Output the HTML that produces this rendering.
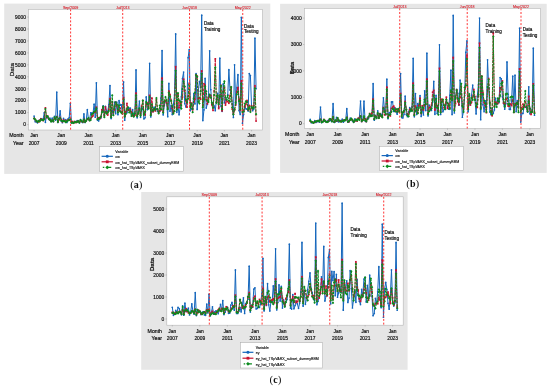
<!DOCTYPE html>
<html><head><meta charset="utf-8"><title>Figure</title>
<style>html,body{margin:0;padding:0;background:#fff}svg{display:block;font-family:"Liberation Sans", sans-serif}text{fill:#111;stroke:#111;stroke-width:.18px}.r{fill:#d4202c;stroke:#d4202c;stroke-width:.1px}.cap{stroke:none}.lg{stroke-width:.12px}</style>
</head><body>
<svg width="550" height="388" viewBox="0 0 550 388">
<rect width="550" height="388" fill="#fff"/>
<rect x="4.2" y="3.6" width="266.1" height="170.3" fill="#e6e6e6"/>
<rect x="28.5" y="9.3" width="234.10000000000002" height="120.7" fill="#fff" stroke="#b4b4b4" stroke-width="0.6"/>
<line x1="27.2" y1="124.60" x2="28.5" y2="124.60" stroke="#8a8a8a" stroke-width="0.4"/>
<text x="25.90" y="126.36" font-size="4.9" text-anchor="end" class="b">0</text>
<line x1="27.2" y1="112.65" x2="28.5" y2="112.65" stroke="#8a8a8a" stroke-width="0.4"/>
<text x="25.90" y="114.41" font-size="4.9" text-anchor="end" class="b">1000</text>
<line x1="27.2" y1="100.70" x2="28.5" y2="100.70" stroke="#8a8a8a" stroke-width="0.4"/>
<text x="25.90" y="102.46" font-size="4.9" text-anchor="end" class="b">2000</text>
<line x1="27.2" y1="88.75" x2="28.5" y2="88.75" stroke="#8a8a8a" stroke-width="0.4"/>
<text x="25.90" y="90.51" font-size="4.9" text-anchor="end" class="b">3000</text>
<line x1="27.2" y1="76.80" x2="28.5" y2="76.80" stroke="#8a8a8a" stroke-width="0.4"/>
<text x="25.90" y="78.56" font-size="4.9" text-anchor="end" class="b">4000</text>
<line x1="27.2" y1="64.85" x2="28.5" y2="64.85" stroke="#8a8a8a" stroke-width="0.4"/>
<text x="25.90" y="66.61" font-size="4.9" text-anchor="end" class="b">5000</text>
<line x1="27.2" y1="52.90" x2="28.5" y2="52.90" stroke="#8a8a8a" stroke-width="0.4"/>
<text x="25.90" y="54.66" font-size="4.9" text-anchor="end" class="b">6000</text>
<line x1="27.2" y1="40.95" x2="28.5" y2="40.95" stroke="#8a8a8a" stroke-width="0.4"/>
<text x="25.90" y="42.71" font-size="4.9" text-anchor="end" class="b">7000</text>
<line x1="27.2" y1="29.00" x2="28.5" y2="29.00" stroke="#8a8a8a" stroke-width="0.4"/>
<text x="25.90" y="30.76" font-size="4.9" text-anchor="end" class="b">8000</text>
<line x1="27.2" y1="17.05" x2="28.5" y2="17.05" stroke="#8a8a8a" stroke-width="0.4"/>
<text x="25.90" y="18.81" font-size="4.9" text-anchor="end" class="b">9000</text>
<text transform="translate(13.8,69.6) rotate(-90)" font-size="6.2" text-anchor="middle" fill="#111" font-weight="normal">Data</text>
<line x1="34.10" y1="130.0" x2="34.10" y2="131.3" stroke="#8a8a8a" stroke-width="0.4"/>
<text x="34.10" y="137.36" font-size="4.9" text-anchor="middle" fill="#111">Jan</text>
<text x="34.10" y="144.56" font-size="4.9" text-anchor="middle" fill="#111">2007</text>
<line x1="61.28" y1="130.0" x2="61.28" y2="131.3" stroke="#8a8a8a" stroke-width="0.4"/>
<text x="61.28" y="137.36" font-size="4.9" text-anchor="middle" fill="#111">Jan</text>
<text x="61.28" y="144.56" font-size="4.9" text-anchor="middle" fill="#111">2009</text>
<line x1="88.46" y1="130.0" x2="88.46" y2="131.3" stroke="#8a8a8a" stroke-width="0.4"/>
<text x="88.46" y="137.36" font-size="4.9" text-anchor="middle" fill="#111">Jan</text>
<text x="88.46" y="144.56" font-size="4.9" text-anchor="middle" fill="#111">2011</text>
<line x1="115.64" y1="130.0" x2="115.64" y2="131.3" stroke="#8a8a8a" stroke-width="0.4"/>
<text x="115.64" y="137.36" font-size="4.9" text-anchor="middle" fill="#111">Jan</text>
<text x="115.64" y="144.56" font-size="4.9" text-anchor="middle" fill="#111">2013</text>
<line x1="142.82" y1="130.0" x2="142.82" y2="131.3" stroke="#8a8a8a" stroke-width="0.4"/>
<text x="142.82" y="137.36" font-size="4.9" text-anchor="middle" fill="#111">Jan</text>
<text x="142.82" y="144.56" font-size="4.9" text-anchor="middle" fill="#111">2015</text>
<line x1="170.00" y1="130.0" x2="170.00" y2="131.3" stroke="#8a8a8a" stroke-width="0.4"/>
<text x="170.00" y="137.36" font-size="4.9" text-anchor="middle" fill="#111">Jan</text>
<text x="170.00" y="144.56" font-size="4.9" text-anchor="middle" fill="#111">2017</text>
<line x1="197.18" y1="130.0" x2="197.18" y2="131.3" stroke="#8a8a8a" stroke-width="0.4"/>
<text x="197.18" y="137.36" font-size="4.9" text-anchor="middle" fill="#111">Jan</text>
<text x="197.18" y="144.56" font-size="4.9" text-anchor="middle" fill="#111">2019</text>
<line x1="224.36" y1="130.0" x2="224.36" y2="131.3" stroke="#8a8a8a" stroke-width="0.4"/>
<text x="224.36" y="137.36" font-size="4.9" text-anchor="middle" fill="#111">Jan</text>
<text x="224.36" y="144.56" font-size="4.9" text-anchor="middle" fill="#111">2021</text>
<line x1="251.54" y1="130.0" x2="251.54" y2="131.3" stroke="#8a8a8a" stroke-width="0.4"/>
<text x="251.54" y="137.36" font-size="4.9" text-anchor="middle" fill="#111">Jan</text>
<text x="251.54" y="144.56" font-size="4.9" text-anchor="middle" fill="#111">2023</text>
<text x="23.6" y="137.36" font-size="5.2" text-anchor="end" fill="#111">Month</text>
<text x="23.6" y="144.56" font-size="5.2" text-anchor="end" fill="#111">Year</text>
<clipPath id="cpa"><rect x="28.5" y="9.3" width="234.10000000000002" height="120.7"/></clipPath>
<g clip-path="url(#cpa)" fill="none" stroke-linejoin="round">
<polyline points="34.10,116.06 35.23,121.63 36.37,121.81 37.50,122.79 38.63,120.60 39.76,120.38 40.90,118.63 42.03,120.02 43.16,118.94 44.29,112.65 45.42,122.29 46.56,115.51 47.69,117.50 48.82,119.45 49.96,118.17 51.09,121.22 52.22,118.09 53.35,121.73 54.48,116.35 55.62,120.22 56.75,92.10 57.88,122.46 59.01,118.89 60.15,110.86 61.28,121.20 62.41,122.70 63.55,118.28 64.68,121.34 65.81,119.68 66.94,122.47 68.08,118.77 69.21,117.63 70.34,103.33 71.47,122.96 72.60,122.00 73.74,122.66 74.87,121.54 76.00,122.04 77.14,120.50 78.27,121.42 79.40,122.79 80.53,119.53 81.66,121.86 82.80,122.61 83.93,113.84 85.06,122.46 86.19,120.86 87.33,109.66 88.46,119.43 89.59,119.97 90.73,112.73 91.86,113.21 92.99,113.21 94.12,104.14 95.25,117.24 96.39,82.78 97.52,120.26 98.65,121.01 99.78,118.01 100.92,118.04 102.05,109.95 103.18,105.75 104.32,114.67 105.45,106.40 106.58,111.03 107.71,111.59 108.84,104.69 109.98,85.52 111.11,118.60 112.24,110.44 113.37,114.82 114.51,102.00 115.64,113.76 116.77,102.08 117.91,114.72 119.04,100.62 120.17,105.15 121.30,104.74 122.44,113.96 123.57,81.94 124.70,120.27 125.83,111.13 126.96,112.82 128.10,108.71 129.23,108.27 130.36,108.20 131.50,116.04 132.63,109.66 133.76,115.99 134.89,113.94 136.03,69.87 137.16,117.83 138.29,112.03 139.42,100.99 140.55,117.36 141.69,107.68 142.82,108.72 143.95,118.95 145.09,117.76 146.22,96.92 147.35,109.63 148.48,107.35 149.62,63.30 150.75,116.98 151.88,109.17 153.01,111.57 154.14,107.18 155.28,109.78 156.41,108.54 157.54,111.43 158.68,111.18 159.81,111.50 160.94,98.13 162.07,50.51 163.20,114.92 164.34,105.19 165.47,100.81 166.60,102.34 167.73,116.76 168.87,83.44 170.00,111.25 171.13,105.72 172.27,114.62 173.40,104.49 174.53,94.90 175.66,33.90 176.79,112.37 177.93,104.83 179.06,114.87 180.19,107.45 181.32,96.79 182.46,78.60 183.59,72.09 184.72,103.59 185.86,106.92 186.99,100.98 188.12,57.68 189.25,49.55 190.38,110.75 191.52,108.71 192.65,108.32 193.78,93.59 194.91,103.95 196.05,73.70 197.18,109.47 198.31,90.80 199.45,81.44 200.58,87.40 201.71,15.14 202.84,120.54 203.97,109.80 205.11,78.36 206.24,108.07 207.37,104.02 208.50,97.03 209.64,50.87 210.77,89.60 211.90,104.80 213.04,102.87 214.17,106.04 215.30,110.63 216.43,99.29 217.56,93.29 218.70,107.46 219.83,58.13 220.96,105.99 222.09,111.31 223.23,83.97 224.36,102.97 225.49,99.55 226.63,99.55 227.76,94.70 228.89,69.63 230.02,89.92 231.16,93.26 232.29,104.17 233.42,117.51 234.55,64.85 235.68,104.05 236.82,87.82 237.95,74.65 239.08,110.58 240.22,114.40 241.35,17.35 242.48,123.17 243.61,114.50 244.75,105.95 245.88,108.80 247.01,109.13 248.14,111.09 249.27,73.57 250.41,75.61 251.54,105.93 252.67,110.71 253.81,108.89 254.94,38.08 256.07,88.75" stroke="#1466bc" stroke-width="1.0"/>
<g fill="#1466bc" stroke="none"><circle cx="34.10" cy="116.06" r="0.85"/><circle cx="35.23" cy="121.63" r="0.85"/><circle cx="36.37" cy="121.81" r="0.85"/><circle cx="37.50" cy="122.79" r="0.85"/><circle cx="38.63" cy="120.60" r="0.85"/><circle cx="39.76" cy="120.38" r="0.85"/><circle cx="40.90" cy="118.63" r="0.85"/><circle cx="42.03" cy="120.02" r="0.85"/><circle cx="43.16" cy="118.94" r="0.85"/><circle cx="44.29" cy="112.65" r="0.85"/><circle cx="45.42" cy="122.29" r="0.85"/><circle cx="46.56" cy="115.51" r="0.85"/><circle cx="47.69" cy="117.50" r="0.85"/><circle cx="48.82" cy="119.45" r="0.85"/><circle cx="49.96" cy="118.17" r="0.85"/><circle cx="51.09" cy="121.22" r="0.85"/><circle cx="52.22" cy="118.09" r="0.85"/><circle cx="53.35" cy="121.73" r="0.85"/><circle cx="54.48" cy="116.35" r="0.85"/><circle cx="55.62" cy="120.22" r="0.85"/><circle cx="56.75" cy="92.10" r="0.85"/><circle cx="57.88" cy="122.46" r="0.85"/><circle cx="59.01" cy="118.89" r="0.85"/><circle cx="60.15" cy="110.86" r="0.85"/><circle cx="61.28" cy="121.20" r="0.85"/><circle cx="62.41" cy="122.70" r="0.85"/><circle cx="63.55" cy="118.28" r="0.85"/><circle cx="64.68" cy="121.34" r="0.85"/><circle cx="65.81" cy="119.68" r="0.85"/><circle cx="66.94" cy="122.47" r="0.85"/><circle cx="68.08" cy="118.77" r="0.85"/><circle cx="69.21" cy="117.63" r="0.85"/><circle cx="70.34" cy="103.33" r="0.85"/><circle cx="71.47" cy="122.96" r="0.85"/><circle cx="72.60" cy="122.00" r="0.85"/><circle cx="73.74" cy="122.66" r="0.85"/><circle cx="74.87" cy="121.54" r="0.85"/><circle cx="76.00" cy="122.04" r="0.85"/><circle cx="77.14" cy="120.50" r="0.85"/><circle cx="78.27" cy="121.42" r="0.85"/><circle cx="79.40" cy="122.79" r="0.85"/><circle cx="80.53" cy="119.53" r="0.85"/><circle cx="81.66" cy="121.86" r="0.85"/><circle cx="82.80" cy="122.61" r="0.85"/><circle cx="83.93" cy="113.84" r="0.85"/><circle cx="85.06" cy="122.46" r="0.85"/><circle cx="86.19" cy="120.86" r="0.85"/><circle cx="87.33" cy="109.66" r="0.85"/><circle cx="88.46" cy="119.43" r="0.85"/><circle cx="89.59" cy="119.97" r="0.85"/><circle cx="90.73" cy="112.73" r="0.85"/><circle cx="91.86" cy="113.21" r="0.85"/><circle cx="92.99" cy="113.21" r="0.85"/><circle cx="94.12" cy="104.14" r="0.85"/><circle cx="95.25" cy="117.24" r="0.85"/><circle cx="96.39" cy="82.78" r="0.85"/><circle cx="97.52" cy="120.26" r="0.85"/><circle cx="98.65" cy="121.01" r="0.85"/><circle cx="99.78" cy="118.01" r="0.85"/><circle cx="100.92" cy="118.04" r="0.85"/><circle cx="102.05" cy="109.95" r="0.85"/><circle cx="103.18" cy="105.75" r="0.85"/><circle cx="104.32" cy="114.67" r="0.85"/><circle cx="105.45" cy="106.40" r="0.85"/><circle cx="106.58" cy="111.03" r="0.85"/><circle cx="107.71" cy="111.59" r="0.85"/><circle cx="108.84" cy="104.69" r="0.85"/><circle cx="109.98" cy="85.52" r="0.85"/><circle cx="111.11" cy="118.60" r="0.85"/><circle cx="112.24" cy="110.44" r="0.85"/><circle cx="113.37" cy="114.82" r="0.85"/><circle cx="114.51" cy="102.00" r="0.85"/><circle cx="115.64" cy="113.76" r="0.85"/><circle cx="116.77" cy="102.08" r="0.85"/><circle cx="117.91" cy="114.72" r="0.85"/><circle cx="119.04" cy="100.62" r="0.85"/><circle cx="120.17" cy="105.15" r="0.85"/><circle cx="121.30" cy="104.74" r="0.85"/><circle cx="122.44" cy="113.96" r="0.85"/><circle cx="123.57" cy="81.94" r="0.85"/><circle cx="124.70" cy="120.27" r="0.85"/><circle cx="125.83" cy="111.13" r="0.85"/><circle cx="126.96" cy="112.82" r="0.85"/><circle cx="128.10" cy="108.71" r="0.85"/><circle cx="129.23" cy="108.27" r="0.85"/><circle cx="130.36" cy="108.20" r="0.85"/><circle cx="131.50" cy="116.04" r="0.85"/><circle cx="132.63" cy="109.66" r="0.85"/><circle cx="133.76" cy="115.99" r="0.85"/><circle cx="134.89" cy="113.94" r="0.85"/><circle cx="136.03" cy="69.87" r="0.85"/><circle cx="137.16" cy="117.83" r="0.85"/><circle cx="138.29" cy="112.03" r="0.85"/><circle cx="139.42" cy="100.99" r="0.85"/><circle cx="140.55" cy="117.36" r="0.85"/><circle cx="141.69" cy="107.68" r="0.85"/><circle cx="142.82" cy="108.72" r="0.85"/><circle cx="143.95" cy="118.95" r="0.85"/><circle cx="145.09" cy="117.76" r="0.85"/><circle cx="146.22" cy="96.92" r="0.85"/><circle cx="147.35" cy="109.63" r="0.85"/><circle cx="148.48" cy="107.35" r="0.85"/><circle cx="149.62" cy="63.30" r="0.85"/><circle cx="150.75" cy="116.98" r="0.85"/><circle cx="151.88" cy="109.17" r="0.85"/><circle cx="153.01" cy="111.57" r="0.85"/><circle cx="154.14" cy="107.18" r="0.85"/><circle cx="155.28" cy="109.78" r="0.85"/><circle cx="156.41" cy="108.54" r="0.85"/><circle cx="157.54" cy="111.43" r="0.85"/><circle cx="158.68" cy="111.18" r="0.85"/><circle cx="159.81" cy="111.50" r="0.85"/><circle cx="160.94" cy="98.13" r="0.85"/><circle cx="162.07" cy="50.51" r="0.85"/><circle cx="163.20" cy="114.92" r="0.85"/><circle cx="164.34" cy="105.19" r="0.85"/><circle cx="165.47" cy="100.81" r="0.85"/><circle cx="166.60" cy="102.34" r="0.85"/><circle cx="167.73" cy="116.76" r="0.85"/><circle cx="168.87" cy="83.44" r="0.85"/><circle cx="170.00" cy="111.25" r="0.85"/><circle cx="171.13" cy="105.72" r="0.85"/><circle cx="172.27" cy="114.62" r="0.85"/><circle cx="173.40" cy="104.49" r="0.85"/><circle cx="174.53" cy="94.90" r="0.85"/><circle cx="175.66" cy="33.90" r="0.85"/><circle cx="176.79" cy="112.37" r="0.85"/><circle cx="177.93" cy="104.83" r="0.85"/><circle cx="179.06" cy="114.87" r="0.85"/><circle cx="180.19" cy="107.45" r="0.85"/><circle cx="181.32" cy="96.79" r="0.85"/><circle cx="182.46" cy="78.60" r="0.85"/><circle cx="183.59" cy="72.09" r="0.85"/><circle cx="184.72" cy="103.59" r="0.85"/><circle cx="185.86" cy="106.92" r="0.85"/><circle cx="186.99" cy="100.98" r="0.85"/><circle cx="188.12" cy="57.68" r="0.85"/><circle cx="189.25" cy="49.55" r="0.85"/><circle cx="190.38" cy="110.75" r="0.85"/><circle cx="191.52" cy="108.71" r="0.85"/><circle cx="192.65" cy="108.32" r="0.85"/><circle cx="193.78" cy="93.59" r="0.85"/><circle cx="194.91" cy="103.95" r="0.85"/><circle cx="196.05" cy="73.70" r="0.85"/><circle cx="197.18" cy="109.47" r="0.85"/><circle cx="198.31" cy="90.80" r="0.85"/><circle cx="199.45" cy="81.44" r="0.85"/><circle cx="200.58" cy="87.40" r="0.85"/><circle cx="201.71" cy="15.14" r="0.85"/><circle cx="202.84" cy="120.54" r="0.85"/><circle cx="203.97" cy="109.80" r="0.85"/><circle cx="205.11" cy="78.36" r="0.85"/><circle cx="206.24" cy="108.07" r="0.85"/><circle cx="207.37" cy="104.02" r="0.85"/><circle cx="208.50" cy="97.03" r="0.85"/><circle cx="209.64" cy="50.87" r="0.85"/><circle cx="210.77" cy="89.60" r="0.85"/><circle cx="211.90" cy="104.80" r="0.85"/><circle cx="213.04" cy="102.87" r="0.85"/><circle cx="214.17" cy="106.04" r="0.85"/><circle cx="215.30" cy="110.63" r="0.85"/><circle cx="216.43" cy="99.29" r="0.85"/><circle cx="217.56" cy="93.29" r="0.85"/><circle cx="218.70" cy="107.46" r="0.85"/><circle cx="219.83" cy="58.13" r="0.85"/><circle cx="220.96" cy="105.99" r="0.85"/><circle cx="222.09" cy="111.31" r="0.85"/><circle cx="223.23" cy="83.97" r="0.85"/><circle cx="224.36" cy="102.97" r="0.85"/><circle cx="225.49" cy="99.55" r="0.85"/><circle cx="226.63" cy="99.55" r="0.85"/><circle cx="227.76" cy="94.70" r="0.85"/><circle cx="228.89" cy="69.63" r="0.85"/><circle cx="230.02" cy="89.92" r="0.85"/><circle cx="231.16" cy="93.26" r="0.85"/><circle cx="232.29" cy="104.17" r="0.85"/><circle cx="233.42" cy="117.51" r="0.85"/><circle cx="234.55" cy="64.85" r="0.85"/><circle cx="235.68" cy="104.05" r="0.85"/><circle cx="236.82" cy="87.82" r="0.85"/><circle cx="237.95" cy="74.65" r="0.85"/><circle cx="239.08" cy="110.58" r="0.85"/><circle cx="240.22" cy="114.40" r="0.85"/><circle cx="241.35" cy="17.35" r="0.85"/><circle cx="242.48" cy="123.17" r="0.85"/><circle cx="243.61" cy="114.50" r="0.85"/><circle cx="244.75" cy="105.95" r="0.85"/><circle cx="245.88" cy="108.80" r="0.85"/><circle cx="247.01" cy="109.13" r="0.85"/><circle cx="248.14" cy="111.09" r="0.85"/><circle cx="249.27" cy="73.57" r="0.85"/><circle cx="250.41" cy="75.61" r="0.85"/><circle cx="251.54" cy="105.93" r="0.85"/><circle cx="252.67" cy="110.71" r="0.85"/><circle cx="253.81" cy="108.89" r="0.85"/><circle cx="254.94" cy="38.08" r="0.85"/><circle cx="256.07" cy="88.75" r="0.85"/></g>
<polyline points="34.10,118.49 35.23,119.40 36.37,121.06 37.50,121.77 38.63,121.76 39.76,120.30 40.90,118.91 42.03,119.72 43.16,120.52 44.29,118.94 45.42,107.87 46.56,117.65 47.69,116.26 48.82,118.77 49.96,119.98 51.09,120.64 52.22,120.66 53.35,121.34 54.48,118.47 55.62,118.79 56.75,116.66 57.88,121.75 59.01,119.86 60.15,117.45 61.28,119.55 62.41,121.75 63.55,120.29 64.68,120.48 65.81,121.62 66.94,121.00 68.08,119.98 69.21,119.88 70.34,119.11 71.47,122.41 72.60,121.51 73.74,122.68 74.87,121.74 76.00,122.53 77.14,121.60 78.27,121.50 79.40,122.17 80.53,120.90 81.66,121.18 82.80,122.15 83.93,119.47 85.06,121.74 86.19,120.68 87.33,119.25 88.46,118.96 89.59,120.39 90.73,118.41 91.86,116.94 92.99,115.84 94.12,111.98 95.25,112.26 96.39,107.18 97.52,118.81 98.65,117.74 99.78,118.75 100.92,116.69 102.05,109.74 103.18,106.90 104.32,115.92 105.45,107.19 106.58,112.15 107.71,115.07 108.84,109.15 109.98,98.69 111.11,116.59 112.24,101.89 113.37,112.75 114.51,109.73 115.64,102.37 116.77,105.28 117.91,110.94 119.04,110.19 120.17,108.16 121.30,112.04 122.44,112.92 123.57,97.65 124.70,116.00 125.83,111.62 126.96,103.49 128.10,110.26 129.23,109.96 130.36,109.73 131.50,112.18 132.63,115.68 133.76,116.08 134.89,115.18 136.03,93.08 137.16,115.58 138.29,113.63 139.42,109.69 140.55,114.83 141.69,106.27 142.82,100.53 143.95,113.69 145.09,114.89 146.22,104.42 147.35,103.00 148.48,108.09 149.62,95.37 150.75,114.44 151.88,98.11 153.01,111.75 154.14,109.40 155.28,110.95 156.41,99.74 157.54,109.13 158.68,112.49 159.81,110.76 160.94,109.86 162.07,78.13 163.20,111.69 164.34,101.55 165.47,100.56 166.60,103.43 167.73,108.34 168.87,91.13 170.00,94.53 171.13,100.40 172.27,108.23 173.40,112.60 174.53,107.22 175.66,66.70 176.79,108.29 177.93,94.04 179.06,107.63 180.19,102.86 181.32,105.51 182.46,97.02 183.59,79.22 184.72,90.75 185.86,100.81 186.99,107.16 188.12,96.23 189.25,83.28 190.38,106.14 191.52,103.05 192.65,109.85 193.78,102.16 194.91,99.41 196.05,74.98 197.18,76.10 198.31,98.75 199.45,97.89 200.58,99.19 201.71,70.94 202.84,105.54 203.97,83.77 205.11,85.32 206.24,99.58 207.37,103.82 208.50,97.92 209.64,95.55 210.77,95.50 211.90,104.54 213.04,110.37 214.17,90.97 215.30,58.88 216.43,102.23 217.56,95.57 218.70,108.52 219.83,96.73 220.96,85.31 222.09,110.82 223.23,91.40 224.36,87.75 225.49,105.07 226.63,100.97 227.76,101.62 228.89,103.24 230.02,95.78 231.16,87.26 232.29,109.24 233.42,114.01 234.55,110.07 235.68,105.01 236.82,91.58 237.95,87.55 239.08,99.35 240.22,109.93 241.35,80.80 242.48,110.98 243.61,111.26 244.75,106.87 245.88,104.49 247.01,100.51 248.14,109.93 249.27,105.46 250.41,110.61 251.54,105.83 252.67,108.50 253.81,105.69 254.94,85.75 256.07,121.02" stroke="#c8102e" stroke-width="1.0" stroke-dasharray="3 0.9"/>
<g fill="#c8102e" stroke="none"><rect x="33.25" y="117.64" width="1.7" height="1.7"/><rect x="34.38" y="118.55" width="1.7" height="1.7"/><rect x="35.52" y="120.21" width="1.7" height="1.7"/><rect x="36.65" y="120.92" width="1.7" height="1.7"/><rect x="37.78" y="120.91" width="1.7" height="1.7"/><rect x="38.91" y="119.45" width="1.7" height="1.7"/><rect x="40.05" y="118.06" width="1.7" height="1.7"/><rect x="41.18" y="118.87" width="1.7" height="1.7"/><rect x="42.31" y="119.67" width="1.7" height="1.7"/><rect x="43.44" y="118.09" width="1.7" height="1.7"/><rect x="44.57" y="107.02" width="1.7" height="1.7"/><rect x="45.71" y="116.80" width="1.7" height="1.7"/><rect x="46.84" y="115.41" width="1.7" height="1.7"/><rect x="47.97" y="117.92" width="1.7" height="1.7"/><rect x="49.11" y="119.13" width="1.7" height="1.7"/><rect x="50.24" y="119.79" width="1.7" height="1.7"/><rect x="51.37" y="119.81" width="1.7" height="1.7"/><rect x="52.50" y="120.49" width="1.7" height="1.7"/><rect x="53.63" y="117.62" width="1.7" height="1.7"/><rect x="54.77" y="117.94" width="1.7" height="1.7"/><rect x="55.90" y="115.81" width="1.7" height="1.7"/><rect x="57.03" y="120.90" width="1.7" height="1.7"/><rect x="58.16" y="119.01" width="1.7" height="1.7"/><rect x="59.30" y="116.60" width="1.7" height="1.7"/><rect x="60.43" y="118.70" width="1.7" height="1.7"/><rect x="61.56" y="120.90" width="1.7" height="1.7"/><rect x="62.70" y="119.44" width="1.7" height="1.7"/><rect x="63.83" y="119.63" width="1.7" height="1.7"/><rect x="64.96" y="120.77" width="1.7" height="1.7"/><rect x="66.09" y="120.15" width="1.7" height="1.7"/><rect x="67.23" y="119.13" width="1.7" height="1.7"/><rect x="68.36" y="119.03" width="1.7" height="1.7"/><rect x="69.49" y="118.26" width="1.7" height="1.7"/><rect x="70.62" y="121.56" width="1.7" height="1.7"/><rect x="71.75" y="120.66" width="1.7" height="1.7"/><rect x="72.89" y="121.83" width="1.7" height="1.7"/><rect x="74.02" y="120.89" width="1.7" height="1.7"/><rect x="75.15" y="121.68" width="1.7" height="1.7"/><rect x="76.29" y="120.75" width="1.7" height="1.7"/><rect x="77.42" y="120.65" width="1.7" height="1.7"/><rect x="78.55" y="121.32" width="1.7" height="1.7"/><rect x="79.68" y="120.05" width="1.7" height="1.7"/><rect x="80.81" y="120.33" width="1.7" height="1.7"/><rect x="81.95" y="121.30" width="1.7" height="1.7"/><rect x="83.08" y="118.62" width="1.7" height="1.7"/><rect x="84.21" y="120.89" width="1.7" height="1.7"/><rect x="85.34" y="119.83" width="1.7" height="1.7"/><rect x="86.48" y="118.40" width="1.7" height="1.7"/><rect x="87.61" y="118.11" width="1.7" height="1.7"/><rect x="88.74" y="119.54" width="1.7" height="1.7"/><rect x="89.88" y="117.56" width="1.7" height="1.7"/><rect x="91.01" y="116.09" width="1.7" height="1.7"/><rect x="92.14" y="114.99" width="1.7" height="1.7"/><rect x="93.27" y="111.13" width="1.7" height="1.7"/><rect x="94.41" y="111.41" width="1.7" height="1.7"/><rect x="95.54" y="106.33" width="1.7" height="1.7"/><rect x="96.67" y="117.96" width="1.7" height="1.7"/><rect x="97.80" y="116.89" width="1.7" height="1.7"/><rect x="98.93" y="117.90" width="1.7" height="1.7"/><rect x="100.07" y="115.84" width="1.7" height="1.7"/><rect x="101.20" y="108.89" width="1.7" height="1.7"/><rect x="102.33" y="106.05" width="1.7" height="1.7"/><rect x="103.47" y="115.07" width="1.7" height="1.7"/><rect x="104.60" y="106.34" width="1.7" height="1.7"/><rect x="105.73" y="111.30" width="1.7" height="1.7"/><rect x="106.86" y="114.22" width="1.7" height="1.7"/><rect x="108.00" y="108.30" width="1.7" height="1.7"/><rect x="109.13" y="97.84" width="1.7" height="1.7"/><rect x="110.26" y="115.74" width="1.7" height="1.7"/><rect x="111.39" y="101.05" width="1.7" height="1.7"/><rect x="112.52" y="111.90" width="1.7" height="1.7"/><rect x="113.66" y="108.88" width="1.7" height="1.7"/><rect x="114.79" y="101.52" width="1.7" height="1.7"/><rect x="115.92" y="104.43" width="1.7" height="1.7"/><rect x="117.06" y="110.09" width="1.7" height="1.7"/><rect x="118.19" y="109.34" width="1.7" height="1.7"/><rect x="119.32" y="107.31" width="1.7" height="1.7"/><rect x="120.45" y="111.19" width="1.7" height="1.7"/><rect x="121.59" y="112.07" width="1.7" height="1.7"/><rect x="122.72" y="96.80" width="1.7" height="1.7"/><rect x="123.85" y="115.15" width="1.7" height="1.7"/><rect x="124.98" y="110.77" width="1.7" height="1.7"/><rect x="126.11" y="102.64" width="1.7" height="1.7"/><rect x="127.25" y="109.41" width="1.7" height="1.7"/><rect x="128.38" y="109.11" width="1.7" height="1.7"/><rect x="129.51" y="108.88" width="1.7" height="1.7"/><rect x="130.65" y="111.33" width="1.7" height="1.7"/><rect x="131.78" y="114.83" width="1.7" height="1.7"/><rect x="132.91" y="115.23" width="1.7" height="1.7"/><rect x="134.04" y="114.33" width="1.7" height="1.7"/><rect x="135.18" y="92.23" width="1.7" height="1.7"/><rect x="136.31" y="114.73" width="1.7" height="1.7"/><rect x="137.44" y="112.78" width="1.7" height="1.7"/><rect x="138.57" y="108.84" width="1.7" height="1.7"/><rect x="139.70" y="113.98" width="1.7" height="1.7"/><rect x="140.84" y="105.42" width="1.7" height="1.7"/><rect x="141.97" y="99.68" width="1.7" height="1.7"/><rect x="143.10" y="112.84" width="1.7" height="1.7"/><rect x="144.24" y="114.04" width="1.7" height="1.7"/><rect x="145.37" y="103.57" width="1.7" height="1.7"/><rect x="146.50" y="102.15" width="1.7" height="1.7"/><rect x="147.63" y="107.24" width="1.7" height="1.7"/><rect x="148.77" y="94.52" width="1.7" height="1.7"/><rect x="149.90" y="113.59" width="1.7" height="1.7"/><rect x="151.03" y="97.26" width="1.7" height="1.7"/><rect x="152.16" y="110.90" width="1.7" height="1.7"/><rect x="153.29" y="108.55" width="1.7" height="1.7"/><rect x="154.43" y="110.10" width="1.7" height="1.7"/><rect x="155.56" y="98.89" width="1.7" height="1.7"/><rect x="156.69" y="108.28" width="1.7" height="1.7"/><rect x="157.83" y="111.64" width="1.7" height="1.7"/><rect x="158.96" y="109.91" width="1.7" height="1.7"/><rect x="160.09" y="109.01" width="1.7" height="1.7"/><rect x="161.22" y="77.28" width="1.7" height="1.7"/><rect x="162.35" y="110.84" width="1.7" height="1.7"/><rect x="163.49" y="100.70" width="1.7" height="1.7"/><rect x="164.62" y="99.71" width="1.7" height="1.7"/><rect x="165.75" y="102.58" width="1.7" height="1.7"/><rect x="166.88" y="107.49" width="1.7" height="1.7"/><rect x="168.02" y="90.28" width="1.7" height="1.7"/><rect x="169.15" y="93.68" width="1.7" height="1.7"/><rect x="170.28" y="99.55" width="1.7" height="1.7"/><rect x="171.42" y="107.38" width="1.7" height="1.7"/><rect x="172.55" y="111.75" width="1.7" height="1.7"/><rect x="173.68" y="106.37" width="1.7" height="1.7"/><rect x="174.81" y="65.85" width="1.7" height="1.7"/><rect x="175.94" y="107.44" width="1.7" height="1.7"/><rect x="177.08" y="93.19" width="1.7" height="1.7"/><rect x="178.21" y="106.78" width="1.7" height="1.7"/><rect x="179.34" y="102.01" width="1.7" height="1.7"/><rect x="180.47" y="104.66" width="1.7" height="1.7"/><rect x="181.61" y="96.17" width="1.7" height="1.7"/><rect x="182.74" y="78.37" width="1.7" height="1.7"/><rect x="183.87" y="89.90" width="1.7" height="1.7"/><rect x="185.01" y="99.96" width="1.7" height="1.7"/><rect x="186.14" y="106.31" width="1.7" height="1.7"/><rect x="187.27" y="95.38" width="1.7" height="1.7"/><rect x="188.40" y="82.43" width="1.7" height="1.7"/><rect x="189.53" y="105.29" width="1.7" height="1.7"/><rect x="190.67" y="102.20" width="1.7" height="1.7"/><rect x="191.80" y="109.00" width="1.7" height="1.7"/><rect x="192.93" y="101.31" width="1.7" height="1.7"/><rect x="194.06" y="98.56" width="1.7" height="1.7"/><rect x="195.20" y="74.13" width="1.7" height="1.7"/><rect x="196.33" y="75.25" width="1.7" height="1.7"/><rect x="197.46" y="97.90" width="1.7" height="1.7"/><rect x="198.60" y="97.04" width="1.7" height="1.7"/><rect x="199.73" y="98.34" width="1.7" height="1.7"/><rect x="200.86" y="70.09" width="1.7" height="1.7"/><rect x="201.99" y="104.69" width="1.7" height="1.7"/><rect x="203.12" y="82.92" width="1.7" height="1.7"/><rect x="204.26" y="84.47" width="1.7" height="1.7"/><rect x="205.39" y="98.73" width="1.7" height="1.7"/><rect x="206.52" y="102.97" width="1.7" height="1.7"/><rect x="207.65" y="97.07" width="1.7" height="1.7"/><rect x="208.79" y="94.70" width="1.7" height="1.7"/><rect x="209.92" y="94.65" width="1.7" height="1.7"/><rect x="211.05" y="103.69" width="1.7" height="1.7"/><rect x="212.19" y="109.52" width="1.7" height="1.7"/><rect x="213.32" y="90.12" width="1.7" height="1.7"/><rect x="214.45" y="58.02" width="1.7" height="1.7"/><rect x="215.58" y="101.38" width="1.7" height="1.7"/><rect x="216.72" y="94.72" width="1.7" height="1.7"/><rect x="217.85" y="107.67" width="1.7" height="1.7"/><rect x="218.98" y="95.88" width="1.7" height="1.7"/><rect x="220.11" y="84.46" width="1.7" height="1.7"/><rect x="221.24" y="109.97" width="1.7" height="1.7"/><rect x="222.38" y="90.55" width="1.7" height="1.7"/><rect x="223.51" y="86.90" width="1.7" height="1.7"/><rect x="224.64" y="104.22" width="1.7" height="1.7"/><rect x="225.78" y="100.12" width="1.7" height="1.7"/><rect x="226.91" y="100.77" width="1.7" height="1.7"/><rect x="228.04" y="102.39" width="1.7" height="1.7"/><rect x="229.17" y="94.93" width="1.7" height="1.7"/><rect x="230.31" y="86.41" width="1.7" height="1.7"/><rect x="231.44" y="108.39" width="1.7" height="1.7"/><rect x="232.57" y="113.16" width="1.7" height="1.7"/><rect x="233.70" y="109.22" width="1.7" height="1.7"/><rect x="234.83" y="104.16" width="1.7" height="1.7"/><rect x="235.97" y="90.73" width="1.7" height="1.7"/><rect x="237.10" y="86.70" width="1.7" height="1.7"/><rect x="238.23" y="98.50" width="1.7" height="1.7"/><rect x="239.37" y="109.08" width="1.7" height="1.7"/><rect x="240.50" y="79.95" width="1.7" height="1.7"/><rect x="241.63" y="110.13" width="1.7" height="1.7"/><rect x="242.76" y="110.41" width="1.7" height="1.7"/><rect x="243.90" y="106.02" width="1.7" height="1.7"/><rect x="245.03" y="103.64" width="1.7" height="1.7"/><rect x="246.16" y="99.66" width="1.7" height="1.7"/><rect x="247.29" y="109.08" width="1.7" height="1.7"/><rect x="248.42" y="104.61" width="1.7" height="1.7"/><rect x="249.56" y="109.76" width="1.7" height="1.7"/><rect x="250.69" y="104.98" width="1.7" height="1.7"/><rect x="251.82" y="107.65" width="1.7" height="1.7"/><rect x="252.96" y="104.84" width="1.7" height="1.7"/><rect x="254.09" y="84.90" width="1.7" height="1.7"/><rect x="255.22" y="120.17" width="1.7" height="1.7"/></g>
<polyline points="34.10,118.49 35.23,119.42 36.37,120.87 37.50,121.87 38.63,121.03 39.76,121.42 40.90,119.57 42.03,119.82 43.16,120.35 44.29,119.02 45.42,109.06 46.56,116.71 47.69,116.26 48.82,118.64 49.96,119.81 51.09,121.72 52.22,120.32 53.35,121.21 54.48,117.36 55.62,119.26 56.75,117.07 57.88,121.99 59.01,118.63 60.15,118.16 61.28,120.41 62.41,121.28 63.55,120.95 64.68,121.09 65.81,122.13 66.94,121.14 68.08,120.43 69.21,120.00 70.34,119.34 71.47,122.60 72.60,122.63 73.74,123.02 74.87,121.67 76.00,122.35 77.14,122.07 78.27,120.95 79.40,122.71 80.53,120.01 81.66,121.02 82.80,121.79 83.93,119.58 85.06,121.98 86.19,120.73 87.33,119.09 88.46,118.01 89.59,120.54 90.73,120.09 91.86,114.21 92.99,113.49 94.12,111.63 95.25,111.33 96.39,108.25 97.52,119.30 98.65,118.94 99.78,117.70 100.92,116.69 102.05,112.14 103.18,106.62 104.32,117.14 105.45,112.07 106.58,113.73 107.71,112.53 108.84,111.02 109.98,100.37 111.11,117.26 112.24,95.32 113.37,115.24 114.51,106.80 115.64,102.37 116.77,104.40 117.91,112.54 119.04,105.23 120.17,111.49 121.30,112.85 122.44,113.80 123.57,99.31 124.70,116.71 125.83,114.02 126.96,108.95 128.10,107.21 129.23,112.41 130.36,111.20 131.50,115.95 132.63,113.37 133.76,116.63 134.89,113.54 136.03,95.27 137.16,116.33 138.29,113.27 139.42,108.21 140.55,115.84 141.69,109.24 142.82,100.52 143.95,114.64 145.09,111.71 146.22,101.93 147.35,104.11 148.48,108.84 149.62,97.01 150.75,115.29 151.88,104.24 153.01,110.80 154.14,108.85 155.28,109.69 156.41,98.11 157.54,109.22 158.68,113.45 159.81,105.44 160.94,109.30 162.07,81.49 163.20,112.77 164.34,101.43 165.47,97.10 166.60,100.02 167.73,109.14 168.87,92.63 170.00,96.14 171.13,100.97 172.27,106.04 173.40,113.72 174.53,111.35 175.66,70.79 176.79,109.65 177.93,92.93 179.06,100.59 180.19,101.42 181.32,108.62 182.46,89.07 183.59,81.29 184.72,86.39 185.86,99.61 186.99,102.55 188.12,98.44 189.25,84.70 190.38,107.68 191.52,104.05 192.65,112.16 193.78,98.31 194.91,92.77 196.05,74.98 197.18,76.78 198.31,101.82 199.45,103.41 200.58,91.37 201.71,73.81 202.84,107.13 203.97,99.25 205.11,86.31 206.24,91.58 207.37,100.56 208.50,101.98 209.64,94.43 210.77,97.33 211.90,102.86 213.04,107.86 214.17,94.95 215.30,67.24 216.43,102.86 217.56,95.29 218.70,104.15 219.83,96.56 220.96,85.79 222.09,109.34 223.23,91.97 224.36,81.36 225.49,97.49 226.63,99.71 227.76,95.81 228.89,100.42 230.02,101.69 231.16,86.97 232.29,107.42 233.42,114.42 234.55,109.49 235.68,102.85 236.82,94.29 237.95,91.53 239.08,101.12 240.22,109.18 241.35,83.54 242.48,112.11 243.61,111.50 244.75,103.67 245.88,101.22 247.01,102.02 248.14,109.85 249.27,107.06 250.41,111.89 251.54,106.68 252.67,108.17 253.81,107.77 254.94,88.34 256.07,114.30" stroke="#0a8a1e" stroke-width="1.0" stroke-dasharray="2.4 0.9"/>
<g fill="#0a8a1e" stroke="none"><path d="M32.83 118.49L34.10 117.21L35.38 118.49L34.10 119.76Z"/><path d="M33.96 119.42L35.23 118.14L36.51 119.42L35.23 120.69Z"/><path d="M35.09 120.87L36.37 119.59L37.64 120.87L36.37 122.14Z"/><path d="M36.22 121.87L37.50 120.59L38.77 121.87L37.50 123.14Z"/><path d="M37.35 121.03L38.63 119.75L39.90 121.03L38.63 122.30Z"/><path d="M38.49 121.42L39.76 120.15L41.04 121.42L39.76 122.70Z"/><path d="M39.62 119.57L40.90 118.30L42.17 119.57L40.90 120.85Z"/><path d="M40.75 119.82L42.03 118.55L43.30 119.82L42.03 121.10Z"/><path d="M41.89 120.35L43.16 119.07L44.44 120.35L43.16 121.62Z"/><path d="M43.02 119.02L44.29 117.75L45.57 119.02L44.29 120.30Z"/><path d="M44.15 109.06L45.42 107.79L46.70 109.06L45.42 110.34Z"/><path d="M45.28 116.71L46.56 115.44L47.83 116.71L46.56 117.99Z"/><path d="M46.41 116.26L47.69 114.99L48.96 116.26L47.69 117.54Z"/><path d="M47.55 118.64L48.82 117.36L50.10 118.64L48.82 119.91Z"/><path d="M48.68 119.81L49.96 118.54L51.23 119.81L49.96 121.09Z"/><path d="M49.81 121.72L51.09 120.45L52.36 121.72L51.09 123.00Z"/><path d="M50.94 120.32L52.22 119.05L53.49 120.32L52.22 121.60Z"/><path d="M52.08 121.21L53.35 119.94L54.63 121.21L53.35 122.49Z"/><path d="M53.21 117.36L54.48 116.08L55.76 117.36L54.48 118.63Z"/><path d="M54.34 119.26L55.62 117.99L56.89 119.26L55.62 120.54Z"/><path d="M55.48 117.07L56.75 115.80L58.03 117.07L56.75 118.35Z"/><path d="M56.61 121.99L57.88 120.71L59.16 121.99L57.88 123.26Z"/><path d="M57.74 118.63L59.01 117.35L60.29 118.63L59.01 119.90Z"/><path d="M58.87 118.16L60.15 116.88L61.42 118.16L60.15 119.43Z"/><path d="M60.01 120.41L61.28 119.13L62.55 120.41L61.28 121.68Z"/><path d="M61.14 121.28L62.41 120.01L63.69 121.28L62.41 122.56Z"/><path d="M62.27 120.95L63.55 119.67L64.82 120.95L63.55 122.22Z"/><path d="M63.40 121.09L64.68 119.82L65.95 121.09L64.68 122.37Z"/><path d="M64.53 122.13L65.81 120.85L67.08 122.13L65.81 123.40Z"/><path d="M65.67 121.14L66.94 119.86L68.22 121.14L66.94 122.41Z"/><path d="M66.80 120.43L68.08 119.15L69.35 120.43L68.08 121.70Z"/><path d="M67.93 120.00L69.21 118.72L70.48 120.00L69.21 121.27Z"/><path d="M69.07 119.34L70.34 118.06L71.62 119.34L70.34 120.61Z"/><path d="M70.20 122.60L71.47 121.32L72.75 122.60L71.47 123.87Z"/><path d="M71.33 122.63L72.60 121.36L73.88 122.63L72.60 123.91Z"/><path d="M72.46 123.02L73.74 121.74L75.01 123.02L73.74 124.29Z"/><path d="M73.59 121.67L74.87 120.39L76.15 121.67L74.87 122.94Z"/><path d="M74.73 122.35L76.00 121.07L77.28 122.35L76.00 123.62Z"/><path d="M75.86 122.07L77.14 120.80L78.41 122.07L77.14 123.35Z"/><path d="M76.99 120.95L78.27 119.67L79.54 120.95L78.27 122.22Z"/><path d="M78.12 122.71L79.40 121.44L80.67 122.71L79.40 123.99Z"/><path d="M79.26 120.01L80.53 118.74L81.81 120.01L80.53 121.29Z"/><path d="M80.39 121.02L81.66 119.75L82.94 121.02L81.66 122.30Z"/><path d="M81.52 121.79L82.80 120.52L84.07 121.79L82.80 123.07Z"/><path d="M82.66 119.58L83.93 118.31L85.21 119.58L83.93 120.86Z"/><path d="M83.79 121.98L85.06 120.71L86.34 121.98L85.06 123.26Z"/><path d="M84.92 120.73L86.19 119.46L87.47 120.73L86.19 122.01Z"/><path d="M86.05 119.09L87.33 117.82L88.60 119.09L87.33 120.37Z"/><path d="M87.19 118.01L88.46 116.74L89.74 118.01L88.46 119.29Z"/><path d="M88.32 120.54L89.59 119.27L90.87 120.54L89.59 121.82Z"/><path d="M89.45 120.09L90.73 118.82L92.00 120.09L90.73 121.37Z"/><path d="M90.58 114.21L91.86 112.93L93.13 114.21L91.86 115.48Z"/><path d="M91.71 113.49L92.99 112.22L94.26 113.49L92.99 114.77Z"/><path d="M92.85 111.63L94.12 110.36L95.40 111.63L94.12 112.91Z"/><path d="M93.98 111.33L95.25 110.06L96.53 111.33L95.25 112.61Z"/><path d="M95.11 108.25L96.39 106.98L97.66 108.25L96.39 109.53Z"/><path d="M96.25 119.30L97.52 118.02L98.80 119.30L97.52 120.57Z"/><path d="M97.38 118.94L98.65 117.66L99.93 118.94L98.65 120.21Z"/><path d="M98.51 117.70L99.78 116.43L101.06 117.70L99.78 118.98Z"/><path d="M99.64 116.69L100.92 115.42L102.19 116.69L100.92 117.97Z"/><path d="M100.78 112.14L102.05 110.86L103.33 112.14L102.05 113.41Z"/><path d="M101.91 106.62L103.18 105.34L104.46 106.62L103.18 107.89Z"/><path d="M103.04 117.14L104.32 115.86L105.59 117.14L104.32 118.41Z"/><path d="M104.17 112.07L105.45 110.79L106.72 112.07L105.45 113.34Z"/><path d="M105.30 113.73L106.58 112.46L107.85 113.73L106.58 115.01Z"/><path d="M106.44 112.53L107.71 111.26L108.99 112.53L107.71 113.81Z"/><path d="M107.57 111.02L108.84 109.75L110.12 111.02L108.84 112.30Z"/><path d="M108.70 100.37L109.98 99.10L111.25 100.37L109.98 101.65Z"/><path d="M109.84 117.26L111.11 115.99L112.39 117.26L111.11 118.54Z"/><path d="M110.97 95.32L112.24 94.05L113.52 95.32L112.24 96.60Z"/><path d="M112.10 115.24L113.37 113.96L114.65 115.24L113.37 116.51Z"/><path d="M113.23 106.80L114.51 105.52L115.78 106.80L114.51 108.07Z"/><path d="M114.36 102.37L115.64 101.10L116.91 102.37L115.64 103.65Z"/><path d="M115.50 104.40L116.77 103.12L118.05 104.40L116.77 105.67Z"/><path d="M116.63 112.54L117.91 111.26L119.18 112.54L117.91 113.81Z"/><path d="M117.76 105.23L119.04 103.95L120.31 105.23L119.04 106.50Z"/><path d="M118.89 111.49L120.17 110.22L121.44 111.49L120.17 112.77Z"/><path d="M120.03 112.85L121.30 111.57L122.58 112.85L121.30 114.12Z"/><path d="M121.16 113.80L122.44 112.52L123.71 113.80L122.44 115.07Z"/><path d="M122.29 99.31L123.57 98.03L124.84 99.31L123.57 100.58Z"/><path d="M123.43 116.71L124.70 115.44L125.98 116.71L124.70 117.99Z"/><path d="M124.56 114.02L125.83 112.75L127.11 114.02L125.83 115.30Z"/><path d="M125.69 108.95L126.96 107.68L128.24 108.95L126.96 110.23Z"/><path d="M126.82 107.21L128.10 105.93L129.37 107.21L128.10 108.48Z"/><path d="M127.95 112.41L129.23 111.13L130.50 112.41L129.23 113.68Z"/><path d="M129.09 111.20L130.36 109.93L131.64 111.20L130.36 112.48Z"/><path d="M130.22 115.95L131.50 114.67L132.77 115.95L131.50 117.22Z"/><path d="M131.35 113.37L132.63 112.09L133.90 113.37L132.63 114.64Z"/><path d="M132.48 116.63L133.76 115.36L135.03 116.63L133.76 117.91Z"/><path d="M133.62 113.54L134.89 112.27L136.17 113.54L134.89 114.82Z"/><path d="M134.75 95.27L136.03 93.99L137.30 95.27L136.03 96.54Z"/><path d="M135.88 116.33L137.16 115.05L138.43 116.33L137.16 117.60Z"/><path d="M137.02 113.27L138.29 111.99L139.57 113.27L138.29 114.54Z"/><path d="M138.15 108.21L139.42 106.93L140.70 108.21L139.42 109.48Z"/><path d="M139.28 115.84L140.55 114.57L141.83 115.84L140.55 117.12Z"/><path d="M140.41 109.24L141.69 107.96L142.96 109.24L141.69 110.51Z"/><path d="M141.54 100.52L142.82 99.25L144.09 100.52L142.82 101.80Z"/><path d="M142.68 114.64L143.95 113.37L145.23 114.64L143.95 115.92Z"/><path d="M143.81 111.71L145.09 110.44L146.36 111.71L145.09 112.99Z"/><path d="M144.94 101.93L146.22 100.66L147.49 101.93L146.22 103.21Z"/><path d="M146.07 104.11L147.35 102.84L148.62 104.11L147.35 105.39Z"/><path d="M147.21 108.84L148.48 107.56L149.76 108.84L148.48 110.11Z"/><path d="M148.34 97.01L149.62 95.74L150.89 97.01L149.62 98.29Z"/><path d="M149.47 115.29L150.75 114.01L152.02 115.29L150.75 116.56Z"/><path d="M150.61 104.24L151.88 102.96L153.16 104.24L151.88 105.51Z"/><path d="M151.74 110.80L153.01 109.53L154.29 110.80L153.01 112.08Z"/><path d="M152.87 108.85L154.14 107.58L155.42 108.85L154.14 110.13Z"/><path d="M154.00 109.69L155.28 108.41L156.55 109.69L155.28 110.96Z"/><path d="M155.13 98.11L156.41 96.84L157.69 98.11L156.41 99.39Z"/><path d="M156.27 109.22L157.54 107.94L158.82 109.22L157.54 110.49Z"/><path d="M157.40 113.45L158.68 112.18L159.95 113.45L158.68 114.73Z"/><path d="M158.53 105.44L159.81 104.17L161.08 105.44L159.81 106.72Z"/><path d="M159.66 109.30L160.94 108.02L162.21 109.30L160.94 110.57Z"/><path d="M160.80 81.49L162.07 80.22L163.35 81.49L162.07 82.77Z"/><path d="M161.93 112.77L163.20 111.49L164.48 112.77L163.20 114.04Z"/><path d="M163.06 101.43L164.34 100.15L165.61 101.43L164.34 102.70Z"/><path d="M164.20 97.10L165.47 95.83L166.75 97.10L165.47 98.38Z"/><path d="M165.33 100.02L166.60 98.75L167.88 100.02L166.60 101.30Z"/><path d="M166.46 109.14L167.73 107.87L169.01 109.14L167.73 110.42Z"/><path d="M167.59 92.63L168.87 91.35L170.14 92.63L168.87 93.90Z"/><path d="M168.72 96.14L170.00 94.87L171.28 96.14L170.00 97.42Z"/><path d="M169.86 100.97L171.13 99.70L172.41 100.97L171.13 102.25Z"/><path d="M170.99 106.04L172.27 104.76L173.54 106.04L172.27 107.31Z"/><path d="M172.12 113.72L173.40 112.44L174.67 113.72L173.40 114.99Z"/><path d="M173.25 111.35L174.53 110.07L175.80 111.35L174.53 112.62Z"/><path d="M174.39 70.79L175.66 69.51L176.94 70.79L175.66 72.06Z"/><path d="M175.52 109.65L176.79 108.37L178.07 109.65L176.79 110.92Z"/><path d="M176.65 92.93L177.93 91.65L179.20 92.93L177.93 94.20Z"/><path d="M177.79 100.59L179.06 99.32L180.34 100.59L179.06 101.87Z"/><path d="M178.92 101.42L180.19 100.14L181.47 101.42L180.19 102.69Z"/><path d="M180.05 108.62L181.32 107.34L182.60 108.62L181.32 109.89Z"/><path d="M181.18 89.07L182.46 87.79L183.73 89.07L182.46 90.34Z"/><path d="M182.31 81.29L183.59 80.02L184.87 81.29L183.59 82.57Z"/><path d="M183.45 86.39L184.72 85.12L186.00 86.39L184.72 87.67Z"/><path d="M184.58 99.61L185.86 98.33L187.13 99.61L185.86 100.88Z"/><path d="M185.71 102.55L186.99 101.27L188.26 102.55L186.99 103.82Z"/><path d="M186.84 98.44L188.12 97.17L189.39 98.44L188.12 99.72Z"/><path d="M187.98 84.70L189.25 83.43L190.53 84.70L189.25 85.98Z"/><path d="M189.11 107.68L190.38 106.40L191.66 107.68L190.38 108.95Z"/><path d="M190.24 104.05L191.52 102.78L192.79 104.05L191.52 105.33Z"/><path d="M191.38 112.16L192.65 110.88L193.93 112.16L192.65 113.43Z"/><path d="M192.51 98.31L193.78 97.03L195.06 98.31L193.78 99.58Z"/><path d="M193.64 92.77L194.91 91.49L196.19 92.77L194.91 94.04Z"/><path d="M194.77 74.98L196.05 73.70L197.32 74.98L196.05 76.25Z"/><path d="M195.90 76.78L197.18 75.50L198.45 76.78L197.18 78.05Z"/><path d="M197.04 101.82L198.31 100.55L199.59 101.82L198.31 103.10Z"/><path d="M198.17 103.41L199.45 102.13L200.72 103.41L199.45 104.68Z"/><path d="M199.30 91.37L200.58 90.10L201.85 91.37L200.58 92.65Z"/><path d="M200.43 73.81L201.71 72.53L202.98 73.81L201.71 75.08Z"/><path d="M201.57 107.13L202.84 105.85L204.12 107.13L202.84 108.40Z"/><path d="M202.70 99.25L203.97 97.97L205.25 99.25L203.97 100.52Z"/><path d="M203.83 86.31L205.11 85.04L206.38 86.31L205.11 87.59Z"/><path d="M204.97 91.58L206.24 90.31L207.52 91.58L206.24 92.86Z"/><path d="M206.10 100.56L207.37 99.28L208.65 100.56L207.37 101.83Z"/><path d="M207.23 101.98L208.50 100.70L209.78 101.98L208.50 103.25Z"/><path d="M208.36 94.43L209.64 93.16L210.91 94.43L209.64 95.71Z"/><path d="M209.49 97.33L210.77 96.06L212.04 97.33L210.77 98.61Z"/><path d="M210.63 102.86L211.90 101.58L213.18 102.86L211.90 104.13Z"/><path d="M211.76 107.86L213.04 106.59L214.31 107.86L213.04 109.14Z"/><path d="M212.89 94.95L214.17 93.67L215.44 94.95L214.17 96.22Z"/><path d="M214.02 67.24L215.30 65.97L216.57 67.24L215.30 68.52Z"/><path d="M215.16 102.86L216.43 101.58L217.71 102.86L216.43 104.13Z"/><path d="M216.29 95.29L217.56 94.01L218.84 95.29L217.56 96.56Z"/><path d="M217.42 104.15L218.70 102.88L219.97 104.15L218.70 105.43Z"/><path d="M218.56 96.56L219.83 95.28L221.11 96.56L219.83 97.83Z"/><path d="M219.69 85.79L220.96 84.52L222.24 85.79L220.96 87.07Z"/><path d="M220.82 109.34L222.09 108.06L223.37 109.34L222.09 110.61Z"/><path d="M221.95 91.97L223.23 90.70L224.50 91.97L223.23 93.25Z"/><path d="M223.08 81.36L224.36 80.09L225.63 81.36L224.36 82.64Z"/><path d="M224.22 97.49L225.49 96.21L226.77 97.49L225.49 98.76Z"/><path d="M225.35 99.71L226.63 98.44L227.90 99.71L226.63 100.99Z"/><path d="M226.48 95.81L227.76 94.53L229.03 95.81L227.76 97.08Z"/><path d="M227.61 100.42L228.89 99.15L230.16 100.42L228.89 101.70Z"/><path d="M228.75 101.69L230.02 100.42L231.30 101.69L230.02 102.97Z"/><path d="M229.88 86.97L231.16 85.70L232.43 86.97L231.16 88.25Z"/><path d="M231.01 107.42L232.29 106.14L233.56 107.42L232.29 108.69Z"/><path d="M232.15 114.42L233.42 113.14L234.70 114.42L233.42 115.69Z"/><path d="M233.28 109.49L234.55 108.21L235.83 109.49L234.55 110.76Z"/><path d="M234.41 102.85L235.68 101.58L236.96 102.85L235.68 104.13Z"/><path d="M235.54 94.29L236.82 93.02L238.09 94.29L236.82 95.57Z"/><path d="M236.67 91.53L237.95 90.26L239.22 91.53L237.95 92.81Z"/><path d="M237.81 101.12L239.08 99.85L240.36 101.12L239.08 102.40Z"/><path d="M238.94 109.18L240.22 107.90L241.49 109.18L240.22 110.45Z"/><path d="M240.07 83.54L241.35 82.26L242.62 83.54L241.35 84.81Z"/><path d="M241.20 112.11L242.48 110.84L243.75 112.11L242.48 113.39Z"/><path d="M242.34 111.50L243.61 110.23L244.89 111.50L243.61 112.78Z"/><path d="M243.47 103.67L244.75 102.40L246.02 103.67L244.75 104.95Z"/><path d="M244.60 101.22L245.88 99.95L247.15 101.22L245.88 102.50Z"/><path d="M245.74 102.02L247.01 100.75L248.29 102.02L247.01 103.30Z"/><path d="M246.87 109.85L248.14 108.57L249.42 109.85L248.14 111.12Z"/><path d="M248.00 107.06L249.27 105.78L250.55 107.06L249.27 108.33Z"/><path d="M249.13 111.89L250.41 110.61L251.68 111.89L250.41 113.16Z"/><path d="M250.26 106.68L251.54 105.41L252.81 106.68L251.54 107.96Z"/><path d="M251.40 108.17L252.67 106.90L253.95 108.17L252.67 109.45Z"/><path d="M252.53 107.77L253.81 106.49L255.08 107.77L253.81 109.04Z"/><path d="M253.66 88.34L254.94 87.07L256.21 88.34L254.94 89.62Z"/><path d="M254.79 114.30L256.07 113.03L257.34 114.30L256.07 115.58Z"/></g>
</g>
<line x1="70.61" y1="9.3" x2="70.61" y2="130.0" stroke="#ff2a2a" stroke-width="0.95" stroke-dasharray="2 1.7"/>
<text x="70.61" y="8.70" font-size="3.6" text-anchor="middle" class="r">Sep/2009</text>
<line x1="122.71" y1="9.3" x2="122.71" y2="130.0" stroke="#ff2a2a" stroke-width="0.95" stroke-dasharray="2 1.7"/>
<text x="122.71" y="8.70" font-size="3.6" text-anchor="middle" class="r">Jul/2013</text>
<line x1="189.52" y1="9.3" x2="189.52" y2="130.0" stroke="#ff2a2a" stroke-width="0.95" stroke-dasharray="2 1.7"/>
<text x="189.52" y="8.70" font-size="3.6" text-anchor="middle" class="r">Jun/2018</text>
<line x1="242.75" y1="9.3" x2="242.75" y2="130.0" stroke="#ff2a2a" stroke-width="0.95" stroke-dasharray="2 1.7"/>
<text x="242.75" y="8.70" font-size="3.6" text-anchor="middle" class="r">May/2022</text>
<text x="203.9" y="24.6" font-size="4.6" fill="#111">Data</text>
<text x="203.9" y="31.0" font-size="4.6" fill="#111">Training</text>
<text x="244.0" y="27.8" font-size="4.6" fill="#111">Data</text>
<text x="244.0" y="33.0" font-size="4.6" fill="#111">Testing</text>
<rect x="99.6" y="146.7" width="83.70000000000002" height="24.5" fill="#fff" stroke="#a8a8a8" stroke-width="0.5"/>
<text x="115.3" y="153.00" font-size="3.6" class="lg">Variable</text>
<line x1="101.60" y1="156.3" x2="112.90" y2="156.3" stroke="#1466bc" stroke-width="1.2"/>
<circle cx="107.25" cy="156.3" r="1.5" fill="#1466bc"/>
<text x="115.3" y="158.05" font-size="3.6" class="lg">ow</text>
<line x1="101.60" y1="161.8" x2="112.90" y2="161.8" stroke="#c8102e" stroke-width="1.2"/>
<rect x="105.85" y="160.40" width="2.8" height="2.8" fill="#c8102e"/>
<text x="115.3" y="163.55" font-size="3.6" class="lg">ow_hat_TSpVARX_subset_dummyBBM</text>
<path d="M102.80 167.4h1.5M107.25 167.4h4" stroke="#0a8a1e" stroke-width="1.2" fill="none"/>
<path d="M105.35 167.4L107.25 165.50L109.15 167.4L107.25 169.30Z" fill="#0a8a1e"/>
<text x="115.3" y="169.15" font-size="3.6" class="lg">ow_hat_TSpVARX</text>
<text x="136.3" y="187.6" font-size="11" text-anchor="middle" class="cap" fill="#111" font-family='"Liberation Serif", serif'>(<tspan font-weight="bold" font-size="10">a</tspan>)</text>
<rect x="280.1" y="3.8" width="266.6" height="169.1" fill="#e6e6e6"/>
<rect x="304.3" y="8.3" width="236.2" height="120.2" fill="#fff" stroke="#b4b4b4" stroke-width="0.6"/>
<line x1="303.0" y1="123.70" x2="304.3" y2="123.70" stroke="#8a8a8a" stroke-width="0.4"/>
<text x="301.70" y="125.46" font-size="4.9" text-anchor="end" class="b">0</text>
<line x1="303.0" y1="97.30" x2="304.3" y2="97.30" stroke="#8a8a8a" stroke-width="0.4"/>
<text x="301.70" y="99.06" font-size="4.9" text-anchor="end" class="b">1000</text>
<line x1="303.0" y1="70.90" x2="304.3" y2="70.90" stroke="#8a8a8a" stroke-width="0.4"/>
<text x="301.70" y="72.66" font-size="4.9" text-anchor="end" class="b">2000</text>
<line x1="303.0" y1="44.50" x2="304.3" y2="44.50" stroke="#8a8a8a" stroke-width="0.4"/>
<text x="301.70" y="46.26" font-size="4.9" text-anchor="end" class="b">3000</text>
<line x1="303.0" y1="18.10" x2="304.3" y2="18.10" stroke="#8a8a8a" stroke-width="0.4"/>
<text x="301.70" y="19.86" font-size="4.9" text-anchor="end" class="b">4000</text>
<text transform="translate(293.5,68) rotate(-90)" font-size="5.5" text-anchor="middle" fill="#111" font-weight="bold">Data</text>
<line x1="310.20" y1="128.5" x2="310.20" y2="129.8" stroke="#8a8a8a" stroke-width="0.4"/>
<text x="310.20" y="135.76" font-size="4.9" text-anchor="middle" fill="#111">Jan</text>
<text x="310.20" y="143.96" font-size="4.9" text-anchor="middle" fill="#111">2007</text>
<line x1="337.66" y1="128.5" x2="337.66" y2="129.8" stroke="#8a8a8a" stroke-width="0.4"/>
<text x="337.66" y="135.76" font-size="4.9" text-anchor="middle" fill="#111">Jan</text>
<text x="337.66" y="143.96" font-size="4.9" text-anchor="middle" fill="#111">2009</text>
<line x1="365.12" y1="128.5" x2="365.12" y2="129.8" stroke="#8a8a8a" stroke-width="0.4"/>
<text x="365.12" y="135.76" font-size="4.9" text-anchor="middle" fill="#111">Jan</text>
<text x="365.12" y="143.96" font-size="4.9" text-anchor="middle" fill="#111">2011</text>
<line x1="392.58" y1="128.5" x2="392.58" y2="129.8" stroke="#8a8a8a" stroke-width="0.4"/>
<text x="392.58" y="135.76" font-size="4.9" text-anchor="middle" fill="#111">Jan</text>
<text x="392.58" y="143.96" font-size="4.9" text-anchor="middle" fill="#111">2013</text>
<line x1="420.04" y1="128.5" x2="420.04" y2="129.8" stroke="#8a8a8a" stroke-width="0.4"/>
<text x="420.04" y="135.76" font-size="4.9" text-anchor="middle" fill="#111">Jan</text>
<text x="420.04" y="143.96" font-size="4.9" text-anchor="middle" fill="#111">2015</text>
<line x1="447.50" y1="128.5" x2="447.50" y2="129.8" stroke="#8a8a8a" stroke-width="0.4"/>
<text x="447.50" y="135.76" font-size="4.9" text-anchor="middle" fill="#111">Jan</text>
<text x="447.50" y="143.96" font-size="4.9" text-anchor="middle" fill="#111">2017</text>
<line x1="474.96" y1="128.5" x2="474.96" y2="129.8" stroke="#8a8a8a" stroke-width="0.4"/>
<text x="474.96" y="135.76" font-size="4.9" text-anchor="middle" fill="#111">Jan</text>
<text x="474.96" y="143.96" font-size="4.9" text-anchor="middle" fill="#111">2019</text>
<line x1="502.42" y1="128.5" x2="502.42" y2="129.8" stroke="#8a8a8a" stroke-width="0.4"/>
<text x="502.42" y="135.76" font-size="4.9" text-anchor="middle" fill="#111">Jan</text>
<text x="502.42" y="143.96" font-size="4.9" text-anchor="middle" fill="#111">2021</text>
<line x1="529.88" y1="128.5" x2="529.88" y2="129.8" stroke="#8a8a8a" stroke-width="0.4"/>
<text x="529.88" y="135.76" font-size="4.9" text-anchor="middle" fill="#111">Jan</text>
<text x="529.88" y="143.96" font-size="4.9" text-anchor="middle" fill="#111">2023</text>
<text x="299.5" y="135.76" font-size="5.2" text-anchor="end" fill="#111">Month</text>
<text x="299.5" y="143.96" font-size="5.2" text-anchor="end" fill="#111">Year</text>
<clipPath id="cpb"><rect x="304.3" y="8.3" width="236.2" height="120.2"/></clipPath>
<g clip-path="url(#cpb)" fill="none" stroke-linejoin="round">
<polyline points="310.20,119.32 311.34,122.74 312.49,122.42 313.63,122.61 314.78,120.61 315.92,122.40 317.06,121.74 318.21,120.27 319.35,122.17 320.50,107.07 321.64,122.58 322.79,121.49 323.93,120.80 325.07,121.31 326.22,121.62 327.36,120.99 328.51,120.09 329.65,120.68 330.79,120.30 331.94,121.58 333.08,103.64 334.23,122.30 335.37,121.79 336.52,117.34 337.66,121.31 338.80,121.95 339.95,120.38 341.09,121.23 342.24,119.16 343.38,122.15 344.52,119.79 345.67,120.42 346.81,108.65 347.96,122.19 349.10,121.65 350.25,118.05 351.39,118.87 352.53,120.93 353.68,122.28 354.82,118.95 355.97,120.73 357.11,119.72 358.25,118.72 359.40,117.32 360.54,101.00 361.69,121.53 362.83,119.66 363.98,101.00 365.12,121.00 366.26,121.71 367.41,117.75 368.55,118.50 369.70,114.62 370.84,114.59 371.99,115.45 373.13,83.57 374.27,120.14 375.42,115.29 376.56,118.43 377.71,110.81 378.85,118.17 379.99,115.04 381.14,115.04 382.28,113.73 383.43,97.78 384.57,110.30 385.71,114.64 386.86,79.08 388.00,118.75 389.15,112.63 390.29,113.18 391.44,101.88 392.58,101.78 393.72,111.44 394.87,107.59 396.01,111.87 397.16,114.21 398.30,108.70 399.44,109.97 400.59,73.54 401.73,117.56 402.88,117.90 404.02,114.36 405.17,96.08 406.31,114.58 407.45,116.67 408.60,112.02 409.74,107.67 410.89,111.15 412.03,106.62 413.18,58.23 414.32,116.82 415.46,93.72 416.61,114.47 417.75,103.53 418.90,105.77 420.04,95.57 421.18,116.39 422.33,109.48 423.47,114.99 424.62,90.86 425.76,110.53 426.90,53.21 428.05,115.88 429.19,105.11 430.34,107.13 431.48,110.47 432.63,102.10 433.77,81.30 434.91,114.32 436.06,95.34 437.20,113.43 438.35,110.10 439.49,44.76 440.63,114.49 441.78,101.43 442.92,111.82 444.07,109.36 445.21,107.34 446.36,101.00 447.50,107.86 448.64,109.22 449.79,95.23 450.93,70.14 452.08,114.59 453.22,15.46 454.37,113.01 455.51,98.19 456.65,89.29 457.80,93.30 458.94,105.17 460.09,80.07 461.23,91.27 462.37,117.24 463.52,111.08 464.66,95.49 465.81,52.42 466.95,40.80 468.10,111.82 469.24,100.73 470.38,104.91 471.53,95.41 472.67,85.02 473.82,95.97 474.96,99.89 476.10,113.90 477.25,96.40 478.39,84.75 479.54,18.10 480.68,119.74 481.82,79.79 482.97,104.68 484.11,111.76 485.26,100.80 486.40,109.39 487.55,59.81 488.69,88.19 489.83,111.89 490.98,114.72 492.12,108.13 493.27,113.47 494.41,109.84 495.56,98.10 496.70,104.48 497.84,98.85 498.99,102.76 500.13,77.50 501.28,78.82 502.42,96.87 503.56,103.17 504.71,109.17 505.85,103.60 507.00,61.92 508.14,94.24 509.28,109.36 510.43,109.44 511.57,101.37 512.72,76.18 513.86,109.02 515.01,75.18 516.15,111.74 517.29,100.68 518.44,106.40 519.58,28.13 520.73,122.12 521.87,113.43 523.01,113.39 524.16,105.95 525.30,107.08 526.45,107.36 527.59,112.26 528.74,86.74 529.88,113.81 531.02,112.37 532.17,109.90 533.31,48.20 534.46,115.19" stroke="#1466bc" stroke-width="1.0"/>
<g fill="#1466bc" stroke="none"><circle cx="310.20" cy="119.32" r="0.85"/><circle cx="311.34" cy="122.74" r="0.85"/><circle cx="312.49" cy="122.42" r="0.85"/><circle cx="313.63" cy="122.61" r="0.85"/><circle cx="314.78" cy="120.61" r="0.85"/><circle cx="315.92" cy="122.40" r="0.85"/><circle cx="317.06" cy="121.74" r="0.85"/><circle cx="318.21" cy="120.27" r="0.85"/><circle cx="319.35" cy="122.17" r="0.85"/><circle cx="320.50" cy="107.07" r="0.85"/><circle cx="321.64" cy="122.58" r="0.85"/><circle cx="322.79" cy="121.49" r="0.85"/><circle cx="323.93" cy="120.80" r="0.85"/><circle cx="325.07" cy="121.31" r="0.85"/><circle cx="326.22" cy="121.62" r="0.85"/><circle cx="327.36" cy="120.99" r="0.85"/><circle cx="328.51" cy="120.09" r="0.85"/><circle cx="329.65" cy="120.68" r="0.85"/><circle cx="330.79" cy="120.30" r="0.85"/><circle cx="331.94" cy="121.58" r="0.85"/><circle cx="333.08" cy="103.64" r="0.85"/><circle cx="334.23" cy="122.30" r="0.85"/><circle cx="335.37" cy="121.79" r="0.85"/><circle cx="336.52" cy="117.34" r="0.85"/><circle cx="337.66" cy="121.31" r="0.85"/><circle cx="338.80" cy="121.95" r="0.85"/><circle cx="339.95" cy="120.38" r="0.85"/><circle cx="341.09" cy="121.23" r="0.85"/><circle cx="342.24" cy="119.16" r="0.85"/><circle cx="343.38" cy="122.15" r="0.85"/><circle cx="344.52" cy="119.79" r="0.85"/><circle cx="345.67" cy="120.42" r="0.85"/><circle cx="346.81" cy="108.65" r="0.85"/><circle cx="347.96" cy="122.19" r="0.85"/><circle cx="349.10" cy="121.65" r="0.85"/><circle cx="350.25" cy="118.05" r="0.85"/><circle cx="351.39" cy="118.87" r="0.85"/><circle cx="352.53" cy="120.93" r="0.85"/><circle cx="353.68" cy="122.28" r="0.85"/><circle cx="354.82" cy="118.95" r="0.85"/><circle cx="355.97" cy="120.73" r="0.85"/><circle cx="357.11" cy="119.72" r="0.85"/><circle cx="358.25" cy="118.72" r="0.85"/><circle cx="359.40" cy="117.32" r="0.85"/><circle cx="360.54" cy="101.00" r="0.85"/><circle cx="361.69" cy="121.53" r="0.85"/><circle cx="362.83" cy="119.66" r="0.85"/><circle cx="363.98" cy="101.00" r="0.85"/><circle cx="365.12" cy="121.00" r="0.85"/><circle cx="366.26" cy="121.71" r="0.85"/><circle cx="367.41" cy="117.75" r="0.85"/><circle cx="368.55" cy="118.50" r="0.85"/><circle cx="369.70" cy="114.62" r="0.85"/><circle cx="370.84" cy="114.59" r="0.85"/><circle cx="371.99" cy="115.45" r="0.85"/><circle cx="373.13" cy="83.57" r="0.85"/><circle cx="374.27" cy="120.14" r="0.85"/><circle cx="375.42" cy="115.29" r="0.85"/><circle cx="376.56" cy="118.43" r="0.85"/><circle cx="377.71" cy="110.81" r="0.85"/><circle cx="378.85" cy="118.17" r="0.85"/><circle cx="379.99" cy="115.04" r="0.85"/><circle cx="381.14" cy="115.04" r="0.85"/><circle cx="382.28" cy="113.73" r="0.85"/><circle cx="383.43" cy="97.78" r="0.85"/><circle cx="384.57" cy="110.30" r="0.85"/><circle cx="385.71" cy="114.64" r="0.85"/><circle cx="386.86" cy="79.08" r="0.85"/><circle cx="388.00" cy="118.75" r="0.85"/><circle cx="389.15" cy="112.63" r="0.85"/><circle cx="390.29" cy="113.18" r="0.85"/><circle cx="391.44" cy="101.88" r="0.85"/><circle cx="392.58" cy="101.78" r="0.85"/><circle cx="393.72" cy="111.44" r="0.85"/><circle cx="394.87" cy="107.59" r="0.85"/><circle cx="396.01" cy="111.87" r="0.85"/><circle cx="397.16" cy="114.21" r="0.85"/><circle cx="398.30" cy="108.70" r="0.85"/><circle cx="399.44" cy="109.97" r="0.85"/><circle cx="400.59" cy="73.54" r="0.85"/><circle cx="401.73" cy="117.56" r="0.85"/><circle cx="402.88" cy="117.90" r="0.85"/><circle cx="404.02" cy="114.36" r="0.85"/><circle cx="405.17" cy="96.08" r="0.85"/><circle cx="406.31" cy="114.58" r="0.85"/><circle cx="407.45" cy="116.67" r="0.85"/><circle cx="408.60" cy="112.02" r="0.85"/><circle cx="409.74" cy="107.67" r="0.85"/><circle cx="410.89" cy="111.15" r="0.85"/><circle cx="412.03" cy="106.62" r="0.85"/><circle cx="413.18" cy="58.23" r="0.85"/><circle cx="414.32" cy="116.82" r="0.85"/><circle cx="415.46" cy="93.72" r="0.85"/><circle cx="416.61" cy="114.47" r="0.85"/><circle cx="417.75" cy="103.53" r="0.85"/><circle cx="418.90" cy="105.77" r="0.85"/><circle cx="420.04" cy="95.57" r="0.85"/><circle cx="421.18" cy="116.39" r="0.85"/><circle cx="422.33" cy="109.48" r="0.85"/><circle cx="423.47" cy="114.99" r="0.85"/><circle cx="424.62" cy="90.86" r="0.85"/><circle cx="425.76" cy="110.53" r="0.85"/><circle cx="426.90" cy="53.21" r="0.85"/><circle cx="428.05" cy="115.88" r="0.85"/><circle cx="429.19" cy="105.11" r="0.85"/><circle cx="430.34" cy="107.13" r="0.85"/><circle cx="431.48" cy="110.47" r="0.85"/><circle cx="432.63" cy="102.10" r="0.85"/><circle cx="433.77" cy="81.30" r="0.85"/><circle cx="434.91" cy="114.32" r="0.85"/><circle cx="436.06" cy="95.34" r="0.85"/><circle cx="437.20" cy="113.43" r="0.85"/><circle cx="438.35" cy="110.10" r="0.85"/><circle cx="439.49" cy="44.76" r="0.85"/><circle cx="440.63" cy="114.49" r="0.85"/><circle cx="441.78" cy="101.43" r="0.85"/><circle cx="442.92" cy="111.82" r="0.85"/><circle cx="444.07" cy="109.36" r="0.85"/><circle cx="445.21" cy="107.34" r="0.85"/><circle cx="446.36" cy="101.00" r="0.85"/><circle cx="447.50" cy="107.86" r="0.85"/><circle cx="448.64" cy="109.22" r="0.85"/><circle cx="449.79" cy="95.23" r="0.85"/><circle cx="450.93" cy="70.14" r="0.85"/><circle cx="452.08" cy="114.59" r="0.85"/><circle cx="453.22" cy="15.46" r="0.85"/><circle cx="454.37" cy="113.01" r="0.85"/><circle cx="455.51" cy="98.19" r="0.85"/><circle cx="456.65" cy="89.29" r="0.85"/><circle cx="457.80" cy="93.30" r="0.85"/><circle cx="458.94" cy="105.17" r="0.85"/><circle cx="460.09" cy="80.07" r="0.85"/><circle cx="461.23" cy="91.27" r="0.85"/><circle cx="462.37" cy="117.24" r="0.85"/><circle cx="463.52" cy="111.08" r="0.85"/><circle cx="464.66" cy="95.49" r="0.85"/><circle cx="465.81" cy="52.42" r="0.85"/><circle cx="466.95" cy="40.80" r="0.85"/><circle cx="468.10" cy="111.82" r="0.85"/><circle cx="469.24" cy="100.73" r="0.85"/><circle cx="470.38" cy="104.91" r="0.85"/><circle cx="471.53" cy="95.41" r="0.85"/><circle cx="472.67" cy="85.02" r="0.85"/><circle cx="473.82" cy="95.97" r="0.85"/><circle cx="474.96" cy="99.89" r="0.85"/><circle cx="476.10" cy="113.90" r="0.85"/><circle cx="477.25" cy="96.40" r="0.85"/><circle cx="478.39" cy="84.75" r="0.85"/><circle cx="479.54" cy="18.10" r="0.85"/><circle cx="480.68" cy="119.74" r="0.85"/><circle cx="481.82" cy="79.79" r="0.85"/><circle cx="482.97" cy="104.68" r="0.85"/><circle cx="484.11" cy="111.76" r="0.85"/><circle cx="485.26" cy="100.80" r="0.85"/><circle cx="486.40" cy="109.39" r="0.85"/><circle cx="487.55" cy="59.81" r="0.85"/><circle cx="488.69" cy="88.19" r="0.85"/><circle cx="489.83" cy="111.89" r="0.85"/><circle cx="490.98" cy="114.72" r="0.85"/><circle cx="492.12" cy="108.13" r="0.85"/><circle cx="493.27" cy="113.47" r="0.85"/><circle cx="494.41" cy="109.84" r="0.85"/><circle cx="495.56" cy="98.10" r="0.85"/><circle cx="496.70" cy="104.48" r="0.85"/><circle cx="497.84" cy="98.85" r="0.85"/><circle cx="498.99" cy="102.76" r="0.85"/><circle cx="500.13" cy="77.50" r="0.85"/><circle cx="501.28" cy="78.82" r="0.85"/><circle cx="502.42" cy="96.87" r="0.85"/><circle cx="503.56" cy="103.17" r="0.85"/><circle cx="504.71" cy="109.17" r="0.85"/><circle cx="505.85" cy="103.60" r="0.85"/><circle cx="507.00" cy="61.92" r="0.85"/><circle cx="508.14" cy="94.24" r="0.85"/><circle cx="509.28" cy="109.36" r="0.85"/><circle cx="510.43" cy="109.44" r="0.85"/><circle cx="511.57" cy="101.37" r="0.85"/><circle cx="512.72" cy="76.18" r="0.85"/><circle cx="513.86" cy="109.02" r="0.85"/><circle cx="515.01" cy="75.18" r="0.85"/><circle cx="516.15" cy="111.74" r="0.85"/><circle cx="517.29" cy="100.68" r="0.85"/><circle cx="518.44" cy="106.40" r="0.85"/><circle cx="519.58" cy="28.13" r="0.85"/><circle cx="520.73" cy="122.12" r="0.85"/><circle cx="521.87" cy="113.43" r="0.85"/><circle cx="523.01" cy="113.39" r="0.85"/><circle cx="524.16" cy="105.95" r="0.85"/><circle cx="525.30" cy="107.08" r="0.85"/><circle cx="526.45" cy="107.36" r="0.85"/><circle cx="527.59" cy="112.26" r="0.85"/><circle cx="528.74" cy="86.74" r="0.85"/><circle cx="529.88" cy="113.81" r="0.85"/><circle cx="531.02" cy="112.37" r="0.85"/><circle cx="532.17" cy="109.90" r="0.85"/><circle cx="533.31" cy="48.20" r="0.85"/><circle cx="534.46" cy="115.19" r="0.85"/></g>
<polyline points="310.20,121.06 311.34,122.07 312.49,122.10 313.63,122.82 314.78,121.77 315.92,121.41 317.06,121.23 318.21,121.20 319.35,121.27 320.50,119.31 321.64,122.09 322.79,121.52 323.93,119.56 325.07,120.64 326.22,121.86 327.36,122.16 328.51,120.83 329.65,119.23 330.79,119.04 331.94,121.02 333.08,116.74 334.23,121.84 335.37,120.84 336.52,120.97 337.66,118.22 338.80,120.70 339.95,120.87 341.09,121.74 342.24,121.15 343.38,120.38 344.52,120.24 345.67,119.99 346.81,117.40 347.96,121.68 349.10,121.59 350.25,119.72 351.39,119.41 352.53,120.07 353.68,121.68 354.82,120.90 355.97,119.71 357.11,121.05 358.25,118.22 359.40,118.79 360.54,116.02 361.69,121.39 362.83,120.03 363.98,117.85 365.12,118.86 366.26,121.50 367.41,118.85 368.55,117.04 369.70,113.61 370.84,115.64 371.99,113.04 373.13,99.08 374.27,118.95 375.42,116.08 376.56,117.59 377.71,113.75 378.85,118.06 379.99,113.68 381.14,116.22 382.28,116.64 383.43,107.54 384.57,114.87 385.71,114.30 386.86,87.18 388.00,117.10 389.15,114.85 390.29,115.93 391.44,108.50 392.58,107.11 393.72,106.13 394.87,110.90 396.01,111.39 397.16,109.31 398.30,111.51 399.44,110.86 400.59,93.50 401.73,115.52 402.88,112.22 404.02,111.76 405.17,101.52 406.31,109.54 407.45,113.77 408.60,114.52 409.74,109.38 410.89,109.50 412.03,110.06 413.18,83.15 414.32,114.53 415.46,106.06 416.61,109.22 417.75,112.79 418.90,105.66 420.04,98.18 421.18,113.46 422.33,105.72 423.47,109.96 424.62,104.82 425.76,104.11 426.90,79.07 428.05,113.27 429.19,107.47 430.34,107.85 431.48,105.16 432.63,92.30 433.77,90.44 434.91,110.07 436.06,103.17 437.20,105.91 438.35,111.00 439.49,68.33 440.63,111.42 441.78,99.27 442.92,101.30 444.07,107.74 445.21,105.09 446.36,97.16 447.50,108.40 448.64,103.79 449.79,107.94 450.93,91.81 452.08,98.04 453.22,57.49 454.37,109.44 455.51,103.59 456.65,89.77 457.80,101.67 458.94,104.71 460.09,97.26 461.23,86.46 462.37,105.67 463.52,108.94 464.66,93.07 465.81,85.56 466.95,55.11 468.10,107.86 469.24,96.20 470.38,104.91 471.53,102.38 472.67,97.13 473.82,89.50 474.96,96.89 476.10,103.44 477.25,107.39 478.39,96.31 479.54,43.21 480.68,107.73 481.82,76.18 482.97,92.88 484.11,102.84 485.26,105.30 486.40,112.63 487.55,89.97 488.69,78.56 489.83,102.40 490.98,110.60 492.12,115.79 493.27,33.15 494.41,106.09 495.56,102.12 496.70,103.26 497.84,103.55 498.99,98.77 500.13,87.78 501.28,89.57 502.42,80.93 503.56,102.94 504.71,104.15 505.85,99.36 507.00,98.33 508.14,106.07 509.28,106.21 510.43,103.99 511.57,105.47 512.72,99.99 513.86,112.35 515.01,103.76 516.15,104.73 517.29,102.40 518.44,107.60 519.58,68.84 520.73,111.29 521.87,107.89 523.01,104.15 524.16,106.94 525.30,101.91 526.45,106.22 527.59,111.19 528.74,96.36 529.88,108.84 531.02,114.46 532.17,111.52 533.31,83.84 534.46,112.35" stroke="#c8102e" stroke-width="1.0" stroke-dasharray="3 0.9"/>
<g fill="#c8102e" stroke="none"><rect x="309.35" y="120.21" width="1.7" height="1.7"/><rect x="310.49" y="121.22" width="1.7" height="1.7"/><rect x="311.64" y="121.25" width="1.7" height="1.7"/><rect x="312.78" y="121.97" width="1.7" height="1.7"/><rect x="313.93" y="120.92" width="1.7" height="1.7"/><rect x="315.07" y="120.56" width="1.7" height="1.7"/><rect x="316.21" y="120.38" width="1.7" height="1.7"/><rect x="317.36" y="120.35" width="1.7" height="1.7"/><rect x="318.50" y="120.42" width="1.7" height="1.7"/><rect x="319.65" y="118.46" width="1.7" height="1.7"/><rect x="320.79" y="121.24" width="1.7" height="1.7"/><rect x="321.94" y="120.67" width="1.7" height="1.7"/><rect x="323.08" y="118.71" width="1.7" height="1.7"/><rect x="324.22" y="119.79" width="1.7" height="1.7"/><rect x="325.37" y="121.01" width="1.7" height="1.7"/><rect x="326.51" y="121.31" width="1.7" height="1.7"/><rect x="327.66" y="119.98" width="1.7" height="1.7"/><rect x="328.80" y="118.38" width="1.7" height="1.7"/><rect x="329.94" y="118.19" width="1.7" height="1.7"/><rect x="331.09" y="120.17" width="1.7" height="1.7"/><rect x="332.23" y="115.89" width="1.7" height="1.7"/><rect x="333.38" y="120.99" width="1.7" height="1.7"/><rect x="334.52" y="119.99" width="1.7" height="1.7"/><rect x="335.67" y="120.12" width="1.7" height="1.7"/><rect x="336.81" y="117.37" width="1.7" height="1.7"/><rect x="337.95" y="119.85" width="1.7" height="1.7"/><rect x="339.10" y="120.02" width="1.7" height="1.7"/><rect x="340.24" y="120.89" width="1.7" height="1.7"/><rect x="341.39" y="120.30" width="1.7" height="1.7"/><rect x="342.53" y="119.53" width="1.7" height="1.7"/><rect x="343.67" y="119.39" width="1.7" height="1.7"/><rect x="344.82" y="119.14" width="1.7" height="1.7"/><rect x="345.96" y="116.55" width="1.7" height="1.7"/><rect x="347.11" y="120.83" width="1.7" height="1.7"/><rect x="348.25" y="120.74" width="1.7" height="1.7"/><rect x="349.40" y="118.87" width="1.7" height="1.7"/><rect x="350.54" y="118.56" width="1.7" height="1.7"/><rect x="351.68" y="119.22" width="1.7" height="1.7"/><rect x="352.83" y="120.83" width="1.7" height="1.7"/><rect x="353.97" y="120.05" width="1.7" height="1.7"/><rect x="355.12" y="118.86" width="1.7" height="1.7"/><rect x="356.26" y="120.20" width="1.7" height="1.7"/><rect x="357.40" y="117.37" width="1.7" height="1.7"/><rect x="358.55" y="117.94" width="1.7" height="1.7"/><rect x="359.69" y="115.17" width="1.7" height="1.7"/><rect x="360.84" y="120.54" width="1.7" height="1.7"/><rect x="361.98" y="119.18" width="1.7" height="1.7"/><rect x="363.13" y="117.00" width="1.7" height="1.7"/><rect x="364.27" y="118.01" width="1.7" height="1.7"/><rect x="365.41" y="120.65" width="1.7" height="1.7"/><rect x="366.56" y="118.00" width="1.7" height="1.7"/><rect x="367.70" y="116.19" width="1.7" height="1.7"/><rect x="368.85" y="112.76" width="1.7" height="1.7"/><rect x="369.99" y="114.79" width="1.7" height="1.7"/><rect x="371.13" y="112.19" width="1.7" height="1.7"/><rect x="372.28" y="98.23" width="1.7" height="1.7"/><rect x="373.42" y="118.10" width="1.7" height="1.7"/><rect x="374.57" y="115.23" width="1.7" height="1.7"/><rect x="375.71" y="116.74" width="1.7" height="1.7"/><rect x="376.86" y="112.90" width="1.7" height="1.7"/><rect x="378.00" y="117.21" width="1.7" height="1.7"/><rect x="379.14" y="112.83" width="1.7" height="1.7"/><rect x="380.29" y="115.37" width="1.7" height="1.7"/><rect x="381.43" y="115.79" width="1.7" height="1.7"/><rect x="382.58" y="106.69" width="1.7" height="1.7"/><rect x="383.72" y="114.02" width="1.7" height="1.7"/><rect x="384.86" y="113.45" width="1.7" height="1.7"/><rect x="386.01" y="86.33" width="1.7" height="1.7"/><rect x="387.15" y="116.25" width="1.7" height="1.7"/><rect x="388.30" y="114.00" width="1.7" height="1.7"/><rect x="389.44" y="115.08" width="1.7" height="1.7"/><rect x="390.59" y="107.65" width="1.7" height="1.7"/><rect x="391.73" y="106.26" width="1.7" height="1.7"/><rect x="392.87" y="105.28" width="1.7" height="1.7"/><rect x="394.02" y="110.05" width="1.7" height="1.7"/><rect x="395.16" y="110.54" width="1.7" height="1.7"/><rect x="396.31" y="108.46" width="1.7" height="1.7"/><rect x="397.45" y="110.66" width="1.7" height="1.7"/><rect x="398.59" y="110.01" width="1.7" height="1.7"/><rect x="399.74" y="92.65" width="1.7" height="1.7"/><rect x="400.88" y="114.67" width="1.7" height="1.7"/><rect x="402.03" y="111.37" width="1.7" height="1.7"/><rect x="403.17" y="110.91" width="1.7" height="1.7"/><rect x="404.32" y="100.67" width="1.7" height="1.7"/><rect x="405.46" y="108.69" width="1.7" height="1.7"/><rect x="406.60" y="112.92" width="1.7" height="1.7"/><rect x="407.75" y="113.67" width="1.7" height="1.7"/><rect x="408.89" y="108.53" width="1.7" height="1.7"/><rect x="410.04" y="108.65" width="1.7" height="1.7"/><rect x="411.18" y="109.21" width="1.7" height="1.7"/><rect x="412.32" y="82.30" width="1.7" height="1.7"/><rect x="413.47" y="113.68" width="1.7" height="1.7"/><rect x="414.61" y="105.21" width="1.7" height="1.7"/><rect x="415.76" y="108.37" width="1.7" height="1.7"/><rect x="416.90" y="111.94" width="1.7" height="1.7"/><rect x="418.05" y="104.81" width="1.7" height="1.7"/><rect x="419.19" y="97.33" width="1.7" height="1.7"/><rect x="420.33" y="112.61" width="1.7" height="1.7"/><rect x="421.48" y="104.87" width="1.7" height="1.7"/><rect x="422.62" y="109.11" width="1.7" height="1.7"/><rect x="423.77" y="103.97" width="1.7" height="1.7"/><rect x="424.91" y="103.26" width="1.7" height="1.7"/><rect x="426.05" y="78.22" width="1.7" height="1.7"/><rect x="427.20" y="112.42" width="1.7" height="1.7"/><rect x="428.34" y="106.62" width="1.7" height="1.7"/><rect x="429.49" y="107.00" width="1.7" height="1.7"/><rect x="430.63" y="104.31" width="1.7" height="1.7"/><rect x="431.78" y="91.45" width="1.7" height="1.7"/><rect x="432.92" y="89.59" width="1.7" height="1.7"/><rect x="434.06" y="109.22" width="1.7" height="1.7"/><rect x="435.21" y="102.32" width="1.7" height="1.7"/><rect x="436.35" y="105.06" width="1.7" height="1.7"/><rect x="437.50" y="110.15" width="1.7" height="1.7"/><rect x="438.64" y="67.48" width="1.7" height="1.7"/><rect x="439.78" y="110.57" width="1.7" height="1.7"/><rect x="440.93" y="98.42" width="1.7" height="1.7"/><rect x="442.07" y="100.45" width="1.7" height="1.7"/><rect x="443.22" y="106.89" width="1.7" height="1.7"/><rect x="444.36" y="104.24" width="1.7" height="1.7"/><rect x="445.51" y="96.31" width="1.7" height="1.7"/><rect x="446.65" y="107.55" width="1.7" height="1.7"/><rect x="447.79" y="102.94" width="1.7" height="1.7"/><rect x="448.94" y="107.09" width="1.7" height="1.7"/><rect x="450.08" y="90.96" width="1.7" height="1.7"/><rect x="451.23" y="97.19" width="1.7" height="1.7"/><rect x="452.37" y="56.64" width="1.7" height="1.7"/><rect x="453.51" y="108.59" width="1.7" height="1.7"/><rect x="454.66" y="102.74" width="1.7" height="1.7"/><rect x="455.80" y="88.92" width="1.7" height="1.7"/><rect x="456.95" y="100.82" width="1.7" height="1.7"/><rect x="458.09" y="103.86" width="1.7" height="1.7"/><rect x="459.24" y="96.41" width="1.7" height="1.7"/><rect x="460.38" y="85.61" width="1.7" height="1.7"/><rect x="461.52" y="104.82" width="1.7" height="1.7"/><rect x="462.67" y="108.09" width="1.7" height="1.7"/><rect x="463.81" y="92.22" width="1.7" height="1.7"/><rect x="464.96" y="84.71" width="1.7" height="1.7"/><rect x="466.10" y="54.26" width="1.7" height="1.7"/><rect x="467.25" y="107.01" width="1.7" height="1.7"/><rect x="468.39" y="95.35" width="1.7" height="1.7"/><rect x="469.53" y="104.06" width="1.7" height="1.7"/><rect x="470.68" y="101.53" width="1.7" height="1.7"/><rect x="471.82" y="96.28" width="1.7" height="1.7"/><rect x="472.97" y="88.65" width="1.7" height="1.7"/><rect x="474.11" y="96.04" width="1.7" height="1.7"/><rect x="475.25" y="102.59" width="1.7" height="1.7"/><rect x="476.40" y="106.54" width="1.7" height="1.7"/><rect x="477.54" y="95.46" width="1.7" height="1.7"/><rect x="478.69" y="42.36" width="1.7" height="1.7"/><rect x="479.83" y="106.88" width="1.7" height="1.7"/><rect x="480.97" y="75.33" width="1.7" height="1.7"/><rect x="482.12" y="92.03" width="1.7" height="1.7"/><rect x="483.26" y="101.99" width="1.7" height="1.7"/><rect x="484.41" y="104.45" width="1.7" height="1.7"/><rect x="485.55" y="111.78" width="1.7" height="1.7"/><rect x="486.70" y="89.12" width="1.7" height="1.7"/><rect x="487.84" y="77.71" width="1.7" height="1.7"/><rect x="488.98" y="101.55" width="1.7" height="1.7"/><rect x="490.13" y="109.75" width="1.7" height="1.7"/><rect x="491.27" y="114.94" width="1.7" height="1.7"/><rect x="492.42" y="32.30" width="1.7" height="1.7"/><rect x="493.56" y="105.24" width="1.7" height="1.7"/><rect x="494.70" y="101.27" width="1.7" height="1.7"/><rect x="495.85" y="102.41" width="1.7" height="1.7"/><rect x="496.99" y="102.70" width="1.7" height="1.7"/><rect x="498.14" y="97.92" width="1.7" height="1.7"/><rect x="499.28" y="86.93" width="1.7" height="1.7"/><rect x="500.43" y="88.72" width="1.7" height="1.7"/><rect x="501.57" y="80.08" width="1.7" height="1.7"/><rect x="502.71" y="102.09" width="1.7" height="1.7"/><rect x="503.86" y="103.30" width="1.7" height="1.7"/><rect x="505.00" y="98.51" width="1.7" height="1.7"/><rect x="506.15" y="97.48" width="1.7" height="1.7"/><rect x="507.29" y="105.22" width="1.7" height="1.7"/><rect x="508.43" y="105.36" width="1.7" height="1.7"/><rect x="509.58" y="103.14" width="1.7" height="1.7"/><rect x="510.72" y="104.62" width="1.7" height="1.7"/><rect x="511.87" y="99.14" width="1.7" height="1.7"/><rect x="513.01" y="111.50" width="1.7" height="1.7"/><rect x="514.16" y="102.91" width="1.7" height="1.7"/><rect x="515.30" y="103.88" width="1.7" height="1.7"/><rect x="516.44" y="101.55" width="1.7" height="1.7"/><rect x="517.59" y="106.75" width="1.7" height="1.7"/><rect x="518.73" y="67.99" width="1.7" height="1.7"/><rect x="519.88" y="110.44" width="1.7" height="1.7"/><rect x="521.02" y="107.04" width="1.7" height="1.7"/><rect x="522.16" y="103.30" width="1.7" height="1.7"/><rect x="523.31" y="106.09" width="1.7" height="1.7"/><rect x="524.45" y="101.06" width="1.7" height="1.7"/><rect x="525.60" y="105.37" width="1.7" height="1.7"/><rect x="526.74" y="110.34" width="1.7" height="1.7"/><rect x="527.89" y="95.51" width="1.7" height="1.7"/><rect x="529.03" y="107.99" width="1.7" height="1.7"/><rect x="530.17" y="113.61" width="1.7" height="1.7"/><rect x="531.32" y="110.67" width="1.7" height="1.7"/><rect x="532.46" y="82.99" width="1.7" height="1.7"/><rect x="533.61" y="111.50" width="1.7" height="1.7"/></g>
<polyline points="310.20,120.85 311.34,121.81 312.49,122.53 313.63,122.70 314.78,121.93 315.92,121.48 317.06,121.08 318.21,121.05 319.35,121.15 320.50,119.46 321.64,122.22 322.79,121.87 323.93,119.75 325.07,121.09 326.22,122.09 327.36,122.03 328.51,121.54 329.65,119.08 330.79,119.39 331.94,121.42 333.08,117.07 334.23,121.99 335.37,120.27 336.52,120.65 337.66,118.00 338.80,120.24 339.95,121.25 341.09,121.65 342.24,121.07 343.38,120.45 344.52,120.62 345.67,119.85 346.81,117.65 347.96,121.85 349.10,120.82 350.25,119.90 351.39,118.47 352.53,120.14 353.68,121.88 354.82,120.64 355.97,119.56 357.11,120.49 358.25,119.11 359.40,120.07 360.54,116.27 361.69,121.05 362.83,120.20 363.98,116.13 365.12,120.30 366.26,121.26 367.41,119.16 368.55,116.72 369.70,113.99 370.84,116.23 371.99,115.92 373.13,100.50 374.27,119.34 375.42,116.47 376.56,118.01 377.71,113.03 378.85,118.07 379.99,113.97 381.14,115.94 382.28,117.36 383.43,108.25 384.57,111.92 385.71,114.01 386.86,89.33 388.00,117.65 389.15,114.75 390.29,114.51 391.44,111.71 392.58,108.67 393.72,109.80 394.87,111.18 396.01,109.08 397.16,111.72 398.30,109.12 399.44,112.01 400.59,94.90 401.73,116.20 402.88,112.58 404.02,110.64 405.17,102.71 406.31,109.54 407.45,115.38 408.60,116.49 409.74,111.74 410.89,109.24 412.03,111.00 413.18,85.26 414.32,115.29 415.46,110.67 416.61,107.76 417.75,113.46 418.90,108.07 420.04,100.46 421.18,112.88 422.33,107.23 423.47,108.27 424.62,99.50 425.76,104.22 426.90,81.36 428.05,114.14 429.19,111.29 430.34,109.69 431.48,108.47 432.63,100.05 433.77,95.26 434.91,107.01 436.06,98.86 437.20,107.65 438.35,114.72 439.49,71.26 440.63,112.45 441.78,101.97 442.92,99.51 444.07,105.19 445.21,109.23 446.36,99.51 447.50,103.04 448.64,105.40 449.79,108.97 450.93,90.24 452.08,100.22 453.22,61.04 454.37,110.63 455.51,97.20 456.65,90.25 457.80,98.62 458.94,101.78 460.09,94.02 461.23,83.66 462.37,106.07 463.52,112.04 464.66,87.60 465.81,85.39 466.95,58.65 468.10,109.18 469.24,94.07 470.38,103.18 471.53,97.85 472.67,100.07 473.82,91.53 474.96,99.61 476.10,106.53 477.25,104.14 478.39,94.65 479.54,47.68 480.68,109.06 481.82,76.18 482.97,94.32 484.11,100.77 485.26,103.43 486.40,111.99 487.55,86.95 488.69,79.59 489.83,103.10 490.98,111.94 492.12,114.49 493.27,36.58 494.41,106.90 495.56,103.53 496.70,107.00 497.84,98.18 498.99,101.58 500.13,95.98 501.28,83.61 502.42,82.27 503.56,99.48 504.71,106.83 505.85,94.11 507.00,93.42 508.14,103.92 509.28,105.34 510.43,97.32 511.57,96.47 512.72,96.71 513.86,112.28 515.01,105.23 516.15,103.55 517.29,102.73 518.44,112.28 519.58,71.68 520.73,112.33 521.87,109.13 523.01,109.02 524.16,105.41 525.30,90.94 526.45,107.59 527.59,111.42 528.74,101.19 529.88,108.17 531.02,112.24 532.17,112.01 533.31,85.57 534.46,113.29" stroke="#0a8a1e" stroke-width="1.0" stroke-dasharray="2.4 0.9"/>
<g fill="#0a8a1e" stroke="none"><path d="M308.93 120.85L310.20 119.57L311.47 120.85L310.20 122.12Z"/><path d="M310.07 121.81L311.34 120.53L312.62 121.81L311.34 123.08Z"/><path d="M311.21 122.53L312.49 121.25L313.76 122.53L312.49 123.80Z"/><path d="M312.36 122.70L313.63 121.42L314.91 122.70L313.63 123.97Z"/><path d="M313.50 121.93L314.78 120.65L316.05 121.93L314.78 123.20Z"/><path d="M314.65 121.48L315.92 120.20L317.20 121.48L315.92 122.75Z"/><path d="M315.79 121.08L317.06 119.81L318.34 121.08L317.06 122.36Z"/><path d="M316.93 121.05L318.21 119.77L319.48 121.05L318.21 122.32Z"/><path d="M318.08 121.15L319.35 119.87L320.63 121.15L319.35 122.42Z"/><path d="M319.22 119.46L320.50 118.18L321.77 119.46L320.50 120.73Z"/><path d="M320.37 122.22L321.64 120.95L322.92 122.22L321.64 123.50Z"/><path d="M321.51 121.87L322.79 120.59L324.06 121.87L322.79 123.14Z"/><path d="M322.66 119.75L323.93 118.48L325.20 119.75L323.93 121.03Z"/><path d="M323.80 121.09L325.07 119.81L326.35 121.09L325.07 122.36Z"/><path d="M324.94 122.09L326.22 120.82L327.49 122.09L326.22 123.37Z"/><path d="M326.09 122.03L327.36 120.75L328.64 122.03L327.36 123.30Z"/><path d="M327.23 121.54L328.51 120.27L329.78 121.54L328.51 122.82Z"/><path d="M328.38 119.08L329.65 117.80L330.93 119.08L329.65 120.35Z"/><path d="M329.52 119.39L330.79 118.12L332.07 119.39L330.79 120.67Z"/><path d="M330.66 121.42L331.94 120.14L333.21 121.42L331.94 122.69Z"/><path d="M331.81 117.07L333.08 115.79L334.36 117.07L333.08 118.34Z"/><path d="M332.95 121.99L334.23 120.72L335.50 121.99L334.23 123.27Z"/><path d="M334.10 120.27L335.37 119.00L336.65 120.27L335.37 121.55Z"/><path d="M335.24 120.65L336.52 119.38L337.79 120.65L336.52 121.93Z"/><path d="M336.38 118.00L337.66 116.72L338.93 118.00L337.66 119.27Z"/><path d="M337.53 120.24L338.80 118.96L340.08 120.24L338.80 121.51Z"/><path d="M338.67 121.25L339.95 119.97L341.22 121.25L339.95 122.52Z"/><path d="M339.82 121.65L341.09 120.38L342.37 121.65L341.09 122.93Z"/><path d="M340.96 121.07L342.24 119.80L343.51 121.07L342.24 122.35Z"/><path d="M342.11 120.45L343.38 119.17L344.66 120.45L343.38 121.72Z"/><path d="M343.25 120.62L344.52 119.34L345.80 120.62L344.52 121.89Z"/><path d="M344.39 119.85L345.67 118.58L346.94 119.85L345.67 121.13Z"/><path d="M345.54 117.65L346.81 116.37L348.09 117.65L346.81 118.92Z"/><path d="M346.68 121.85L347.96 120.57L349.23 121.85L347.96 123.12Z"/><path d="M347.83 120.82L349.10 119.55L350.38 120.82L349.10 122.10Z"/><path d="M348.97 119.90L350.25 118.63L351.52 119.90L350.25 121.18Z"/><path d="M350.12 118.47L351.39 117.19L352.66 118.47L351.39 119.74Z"/><path d="M351.26 120.14L352.53 118.87L353.81 120.14L352.53 121.42Z"/><path d="M352.40 121.88L353.68 120.60L354.95 121.88L353.68 123.15Z"/><path d="M353.55 120.64L354.82 119.37L356.10 120.64L354.82 121.92Z"/><path d="M354.69 119.56L355.97 118.29L357.24 119.56L355.97 120.84Z"/><path d="M355.84 120.49L357.11 119.22L358.39 120.49L357.11 121.77Z"/><path d="M356.98 119.11L358.25 117.84L359.53 119.11L358.25 120.39Z"/><path d="M358.12 120.07L359.40 118.80L360.67 120.07L359.40 121.35Z"/><path d="M359.27 116.27L360.54 114.99L361.82 116.27L360.54 117.54Z"/><path d="M360.41 121.05L361.69 119.78L362.96 121.05L361.69 122.33Z"/><path d="M361.56 120.20L362.83 118.92L364.11 120.20L362.83 121.47Z"/><path d="M362.70 116.13L363.98 114.85L365.25 116.13L363.98 117.40Z"/><path d="M363.85 120.30L365.12 119.03L366.39 120.30L365.12 121.58Z"/><path d="M364.99 121.26L366.26 119.98L367.54 121.26L366.26 122.53Z"/><path d="M366.13 119.16L367.41 117.89L368.68 119.16L367.41 120.44Z"/><path d="M367.28 116.72L368.55 115.45L369.83 116.72L368.55 118.00Z"/><path d="M368.42 113.99L369.70 112.71L370.97 113.99L369.70 115.26Z"/><path d="M369.57 116.23L370.84 114.95L372.12 116.23L370.84 117.50Z"/><path d="M370.71 115.92L371.99 114.64L373.26 115.92L371.99 117.19Z"/><path d="M371.85 100.50L373.13 99.22L374.40 100.50L373.13 101.77Z"/><path d="M373.00 119.34L374.27 118.07L375.55 119.34L374.27 120.62Z"/><path d="M374.14 116.47L375.42 115.20L376.69 116.47L375.42 117.75Z"/><path d="M375.29 118.01L376.56 116.74L377.84 118.01L376.56 119.29Z"/><path d="M376.43 113.03L377.71 111.75L378.98 113.03L377.71 114.30Z"/><path d="M377.58 118.07L378.85 116.79L380.12 118.07L378.85 119.34Z"/><path d="M378.72 113.97L379.99 112.69L381.27 113.97L379.99 115.24Z"/><path d="M379.86 115.94L381.14 114.66L382.41 115.94L381.14 117.21Z"/><path d="M381.01 117.36L382.28 116.08L383.56 117.36L382.28 118.63Z"/><path d="M382.15 108.25L383.43 106.98L384.70 108.25L383.43 109.53Z"/><path d="M383.30 111.92L384.57 110.65L385.85 111.92L384.57 113.20Z"/><path d="M384.44 114.01L385.71 112.73L386.99 114.01L385.71 115.28Z"/><path d="M385.58 89.33L386.86 88.05L388.13 89.33L386.86 90.60Z"/><path d="M386.73 117.65L388.00 116.37L389.28 117.65L388.00 118.92Z"/><path d="M387.87 114.75L389.15 113.48L390.42 114.75L389.15 116.03Z"/><path d="M389.02 114.51L390.29 113.24L391.57 114.51L390.29 115.79Z"/><path d="M390.16 111.71L391.44 110.43L392.71 111.71L391.44 112.98Z"/><path d="M391.31 108.67L392.58 107.40L393.85 108.67L392.58 109.95Z"/><path d="M392.45 109.80L393.72 108.52L395.00 109.80L393.72 111.07Z"/><path d="M393.59 111.18L394.87 109.90L396.14 111.18L394.87 112.45Z"/><path d="M394.74 109.08L396.01 107.80L397.29 109.08L396.01 110.35Z"/><path d="M395.88 111.72L397.16 110.45L398.43 111.72L397.16 113.00Z"/><path d="M397.03 109.12L398.30 107.85L399.58 109.12L398.30 110.40Z"/><path d="M398.17 112.01L399.44 110.74L400.72 112.01L399.44 113.29Z"/><path d="M399.31 94.90L400.59 93.63L401.86 94.90L400.59 96.18Z"/><path d="M400.46 116.20L401.73 114.92L403.01 116.20L401.73 117.47Z"/><path d="M401.60 112.58L402.88 111.31L404.15 112.58L402.88 113.86Z"/><path d="M402.75 110.64L404.02 109.36L405.30 110.64L404.02 111.91Z"/><path d="M403.89 102.71L405.17 101.44L406.44 102.71L405.17 103.99Z"/><path d="M405.04 109.54L406.31 108.26L407.58 109.54L406.31 110.81Z"/><path d="M406.18 115.38L407.45 114.11L408.73 115.38L407.45 116.66Z"/><path d="M407.32 116.49L408.60 115.22L409.87 116.49L408.60 117.77Z"/><path d="M408.47 111.74L409.74 110.46L411.02 111.74L409.74 113.01Z"/><path d="M409.61 109.24L410.89 107.97L412.16 109.24L410.89 110.52Z"/><path d="M410.76 111.00L412.03 109.73L413.31 111.00L412.03 112.28Z"/><path d="M411.90 85.26L413.18 83.99L414.45 85.26L413.18 86.54Z"/><path d="M413.04 115.29L414.32 114.02L415.59 115.29L414.32 116.57Z"/><path d="M414.19 110.67L415.46 109.40L416.74 110.67L415.46 111.95Z"/><path d="M415.33 107.76L416.61 106.49L417.88 107.76L416.61 109.04Z"/><path d="M416.48 113.46L417.75 112.18L419.03 113.46L417.75 114.73Z"/><path d="M417.62 108.07L418.90 106.80L420.17 108.07L418.90 109.35Z"/><path d="M418.76 100.46L420.04 99.18L421.31 100.46L420.04 101.73Z"/><path d="M419.91 112.88L421.18 111.60L422.46 112.88L421.18 114.15Z"/><path d="M421.05 107.23L422.33 105.95L423.60 107.23L422.33 108.50Z"/><path d="M422.20 108.27L423.47 107.00L424.75 108.27L423.47 109.55Z"/><path d="M423.34 99.50L424.62 98.23L425.89 99.50L424.62 100.78Z"/><path d="M424.49 104.22L425.76 102.95L427.04 104.22L425.76 105.50Z"/><path d="M425.63 81.36L426.90 80.08L428.18 81.36L426.90 82.63Z"/><path d="M426.77 114.14L428.05 112.87L429.32 114.14L428.05 115.42Z"/><path d="M427.92 111.29L429.19 110.01L430.47 111.29L429.19 112.56Z"/><path d="M429.06 109.69L430.34 108.41L431.61 109.69L430.34 110.96Z"/><path d="M430.21 108.47L431.48 107.19L432.76 108.47L431.48 109.74Z"/><path d="M431.35 100.05L432.63 98.77L433.90 100.05L432.63 101.32Z"/><path d="M432.50 95.26L433.77 93.99L435.04 95.26L433.77 96.54Z"/><path d="M433.64 107.01L434.91 105.74L436.19 107.01L434.91 108.29Z"/><path d="M434.78 98.86L436.06 97.59L437.33 98.86L436.06 100.14Z"/><path d="M435.93 107.65L437.20 106.37L438.48 107.65L437.20 108.92Z"/><path d="M437.07 114.72L438.35 113.44L439.62 114.72L438.35 115.99Z"/><path d="M438.22 71.26L439.49 69.99L440.77 71.26L439.49 72.54Z"/><path d="M439.36 112.45L440.63 111.17L441.91 112.45L440.63 113.72Z"/><path d="M440.50 101.97L441.78 100.70L443.05 101.97L441.78 103.25Z"/><path d="M441.65 99.51L442.92 98.23L444.20 99.51L442.92 100.78Z"/><path d="M442.79 105.19L444.07 103.91L445.34 105.19L444.07 106.46Z"/><path d="M443.94 109.23L445.21 107.95L446.49 109.23L445.21 110.50Z"/><path d="M445.08 99.51L446.36 98.24L447.63 99.51L446.36 100.79Z"/><path d="M446.23 103.04L447.50 101.77L448.77 103.04L447.50 104.32Z"/><path d="M447.37 105.40L448.64 104.12L449.92 105.40L448.64 106.67Z"/><path d="M448.51 108.97L449.79 107.69L451.06 108.97L449.79 110.24Z"/><path d="M449.66 90.24L450.93 88.96L452.21 90.24L450.93 91.51Z"/><path d="M450.80 100.22L452.08 98.95L453.35 100.22L452.08 101.50Z"/><path d="M451.95 61.04L453.22 59.77L454.50 61.04L453.22 62.32Z"/><path d="M453.09 110.63L454.37 109.36L455.64 110.63L454.37 111.91Z"/><path d="M454.23 97.20L455.51 95.93L456.78 97.20L455.51 98.48Z"/><path d="M455.38 90.25L456.65 88.97L457.93 90.25L456.65 91.52Z"/><path d="M456.52 98.62L457.80 97.35L459.07 98.62L457.80 99.90Z"/><path d="M457.67 101.78L458.94 100.51L460.22 101.78L458.94 103.06Z"/><path d="M458.81 94.02L460.09 92.74L461.36 94.02L460.09 95.29Z"/><path d="M459.96 83.66L461.23 82.39L462.50 83.66L461.23 84.94Z"/><path d="M461.10 106.07L462.37 104.79L463.65 106.07L462.37 107.34Z"/><path d="M462.24 112.04L463.52 110.76L464.79 112.04L463.52 113.31Z"/><path d="M463.39 87.60L464.66 86.32L465.94 87.60L464.66 88.87Z"/><path d="M464.53 85.39L465.81 84.11L467.08 85.39L465.81 86.66Z"/><path d="M465.68 58.65L466.95 57.37L468.23 58.65L466.95 59.92Z"/><path d="M466.82 109.18L468.10 107.91L469.37 109.18L468.10 110.46Z"/><path d="M467.96 94.07L469.24 92.79L470.51 94.07L469.24 95.34Z"/><path d="M469.11 103.18L470.38 101.90L471.66 103.18L470.38 104.45Z"/><path d="M470.25 97.85L471.53 96.57L472.80 97.85L471.53 99.12Z"/><path d="M471.40 100.07L472.67 98.80L473.95 100.07L472.67 101.35Z"/><path d="M472.54 91.53L473.82 90.25L475.09 91.53L473.82 92.80Z"/><path d="M473.69 99.61L474.96 98.33L476.23 99.61L474.96 100.88Z"/><path d="M474.83 106.53L476.10 105.26L477.38 106.53L476.10 107.81Z"/><path d="M475.97 104.14L477.25 102.87L478.52 104.14L477.25 105.42Z"/><path d="M477.12 94.65L478.39 93.37L479.67 94.65L478.39 95.92Z"/><path d="M478.26 47.68L479.54 46.41L480.81 47.68L479.54 48.96Z"/><path d="M479.41 109.06L480.68 107.78L481.96 109.06L480.68 110.33Z"/><path d="M480.55 76.18L481.82 74.91L483.10 76.18L481.82 77.46Z"/><path d="M481.69 94.32L482.97 93.04L484.24 94.32L482.97 95.59Z"/><path d="M482.84 100.77L484.11 99.50L485.39 100.77L484.11 102.05Z"/><path d="M483.98 103.43L485.26 102.15L486.53 103.43L485.26 104.70Z"/><path d="M485.13 111.99L486.40 110.71L487.68 111.99L486.40 113.26Z"/><path d="M486.27 86.95L487.55 85.67L488.82 86.95L487.55 88.22Z"/><path d="M487.42 79.59L488.69 78.32L489.96 79.59L488.69 80.87Z"/><path d="M488.56 103.10L489.83 101.83L491.11 103.10L489.83 104.38Z"/><path d="M489.70 111.94L490.98 110.67L492.25 111.94L490.98 113.22Z"/><path d="M490.85 114.49L492.12 113.21L493.40 114.49L492.12 115.76Z"/><path d="M491.99 36.58L493.27 35.31L494.54 36.58L493.27 37.86Z"/><path d="M493.14 106.90L494.41 105.62L495.69 106.90L494.41 108.17Z"/><path d="M494.28 103.53L495.56 102.26L496.83 103.53L495.56 104.81Z"/><path d="M495.42 107.00L496.70 105.73L497.97 107.00L496.70 108.28Z"/><path d="M496.57 98.18L497.84 96.91L499.12 98.18L497.84 99.46Z"/><path d="M497.71 101.58L498.99 100.31L500.26 101.58L498.99 102.86Z"/><path d="M498.86 95.98L500.13 94.70L501.41 95.98L500.13 97.25Z"/><path d="M500.00 83.61L501.28 82.33L502.55 83.61L501.28 84.88Z"/><path d="M501.14 82.27L502.42 80.99L503.69 82.27L502.42 83.54Z"/><path d="M502.29 99.48L503.56 98.21L504.84 99.48L503.56 100.76Z"/><path d="M503.43 106.83L504.71 105.56L505.98 106.83L504.71 108.11Z"/><path d="M504.58 94.11L505.85 92.84L507.13 94.11L505.85 95.39Z"/><path d="M505.72 93.42L507.00 92.14L508.27 93.42L507.00 94.69Z"/><path d="M506.87 103.92L508.14 102.65L509.42 103.92L508.14 105.20Z"/><path d="M508.01 105.34L509.28 104.06L510.56 105.34L509.28 106.61Z"/><path d="M509.15 97.32L510.43 96.04L511.70 97.32L510.43 98.59Z"/><path d="M510.30 96.47L511.57 95.19L512.85 96.47L511.57 97.74Z"/><path d="M511.44 96.71L512.72 95.44L513.99 96.71L512.72 97.99Z"/><path d="M512.59 112.28L513.86 111.01L515.14 112.28L513.86 113.56Z"/><path d="M513.73 105.23L515.01 103.96L516.28 105.23L515.01 106.51Z"/><path d="M514.88 103.55L516.15 102.28L517.42 103.55L516.15 104.83Z"/><path d="M516.02 102.73L517.29 101.45L518.57 102.73L517.29 104.00Z"/><path d="M517.16 112.28L518.44 111.00L519.71 112.28L518.44 113.55Z"/><path d="M518.31 71.68L519.58 70.40L520.86 71.68L519.58 72.95Z"/><path d="M519.45 112.33L520.73 111.05L522.00 112.33L520.73 113.60Z"/><path d="M520.60 109.13L521.87 107.85L523.15 109.13L521.87 110.40Z"/><path d="M521.74 109.02L523.01 107.75L524.29 109.02L523.01 110.30Z"/><path d="M522.88 105.41L524.16 104.13L525.43 105.41L524.16 106.68Z"/><path d="M524.03 90.94L525.30 89.66L526.58 90.94L525.30 92.21Z"/><path d="M525.17 107.59L526.45 106.32L527.72 107.59L526.45 108.87Z"/><path d="M526.32 111.42L527.59 110.15L528.87 111.42L527.59 112.70Z"/><path d="M527.46 101.19L528.74 99.91L530.01 101.19L528.74 102.46Z"/><path d="M528.61 108.17L529.88 106.89L531.15 108.17L529.88 109.44Z"/><path d="M529.75 112.24L531.02 110.96L532.30 112.24L531.02 113.51Z"/><path d="M530.89 112.01L532.17 110.74L533.44 112.01L532.17 113.29Z"/><path d="M532.04 85.57L533.31 84.30L534.59 85.57L533.31 86.85Z"/><path d="M533.18 113.29L534.46 112.02L535.73 113.29L534.46 114.57Z"/></g>
</g>
<line x1="399.72" y1="8.3" x2="399.72" y2="128.5" stroke="#ff2a2a" stroke-width="0.95" stroke-dasharray="2 1.7"/>
<text x="399.72" y="7.70" font-size="3.6" text-anchor="middle" class="r">Jul/2013</text>
<line x1="467.23" y1="8.3" x2="467.23" y2="128.5" stroke="#ff2a2a" stroke-width="0.95" stroke-dasharray="2 1.7"/>
<text x="467.23" y="7.70" font-size="3.6" text-anchor="middle" class="r">Jun/2018</text>
<line x1="521.00" y1="8.3" x2="521.00" y2="128.5" stroke="#ff2a2a" stroke-width="0.95" stroke-dasharray="2 1.7"/>
<text x="521.00" y="7.70" font-size="3.6" text-anchor="middle" class="r">May/2022</text>
<text x="485.5" y="27.2" font-size="4.6" fill="#111">Data</text>
<text x="485.5" y="32.8" font-size="4.6" fill="#111">Training</text>
<text x="522.7" y="31.0" font-size="4.6" fill="#111">Data</text>
<text x="522.7" y="36.6" font-size="4.6" fill="#111">Testing</text>
<rect x="379.6" y="146.3" width="83.79999999999995" height="24.099999999999994" fill="#fff" stroke="#a8a8a8" stroke-width="0.5"/>
<text x="395.3" y="152.40" font-size="3.6" class="lg">Variable</text>
<line x1="381.60" y1="155.6" x2="392.90" y2="155.6" stroke="#1466bc" stroke-width="1.2"/>
<circle cx="387.25" cy="155.6" r="1.5" fill="#1466bc"/>
<text x="395.3" y="157.35" font-size="3.6" class="lg">ow</text>
<line x1="381.60" y1="161.0" x2="392.90" y2="161.0" stroke="#c8102e" stroke-width="1.2"/>
<rect x="385.85" y="159.60" width="2.8" height="2.8" fill="#c8102e"/>
<text x="395.3" y="162.75" font-size="3.6" class="lg">ow_hat_TSpVARX_subset_dummyBBM</text>
<path d="M382.80 166.3h1.5M387.25 166.3h4" stroke="#0a8a1e" stroke-width="1.2" fill="none"/>
<path d="M385.35 166.3L387.25 164.40L389.15 166.3L387.25 168.20Z" fill="#0a8a1e"/>
<text x="395.3" y="168.05" font-size="3.6" class="lg">ow_hat_TSpVARX</text>
<text x="412.8" y="187.4" font-size="11" text-anchor="middle" class="cap" fill="#111" font-family='"Liberation Serif", serif'>(<tspan font-weight="bold" font-size="10">b</tspan>)</text>
<rect x="141.2" y="192.0" width="266.4" height="177.8" fill="#e6e6e6"/>
<rect x="166.8" y="196.8" width="236.39999999999998" height="128.39999999999998" fill="#fff" stroke="#b4b4b4" stroke-width="0.6"/>
<line x1="165.5" y1="319.00" x2="166.8" y2="319.00" stroke="#8a8a8a" stroke-width="0.4"/>
<text x="164.20" y="320.76" font-size="4.9" text-anchor="end" class="b">0</text>
<line x1="165.5" y1="297.00" x2="166.8" y2="297.00" stroke="#8a8a8a" stroke-width="0.4"/>
<text x="164.20" y="298.76" font-size="4.9" text-anchor="end" class="b">1000</text>
<line x1="165.5" y1="275.00" x2="166.8" y2="275.00" stroke="#8a8a8a" stroke-width="0.4"/>
<text x="164.20" y="276.76" font-size="4.9" text-anchor="end" class="b">2000</text>
<line x1="165.5" y1="253.00" x2="166.8" y2="253.00" stroke="#8a8a8a" stroke-width="0.4"/>
<text x="164.20" y="254.76" font-size="4.9" text-anchor="end" class="b">3000</text>
<line x1="165.5" y1="231.00" x2="166.8" y2="231.00" stroke="#8a8a8a" stroke-width="0.4"/>
<text x="164.20" y="232.76" font-size="4.9" text-anchor="end" class="b">4000</text>
<line x1="165.5" y1="209.00" x2="166.8" y2="209.00" stroke="#8a8a8a" stroke-width="0.4"/>
<text x="164.20" y="210.76" font-size="4.9" text-anchor="end" class="b">5000</text>
<text transform="translate(154.2,264.5) rotate(-90)" font-size="6.1" text-anchor="middle" fill="#111" font-weight="bold">Data</text>
<line x1="172.30" y1="325.2" x2="172.30" y2="326.5" stroke="#8a8a8a" stroke-width="0.4"/>
<text x="172.30" y="332.76" font-size="4.9" text-anchor="middle" fill="#111">Jan</text>
<text x="172.30" y="340.06" font-size="4.9" text-anchor="middle" fill="#111">2007</text>
<line x1="199.84" y1="325.2" x2="199.84" y2="326.5" stroke="#8a8a8a" stroke-width="0.4"/>
<text x="199.84" y="332.76" font-size="4.9" text-anchor="middle" fill="#111">Jan</text>
<text x="199.84" y="340.06" font-size="4.9" text-anchor="middle" fill="#111">2009</text>
<line x1="227.38" y1="325.2" x2="227.38" y2="326.5" stroke="#8a8a8a" stroke-width="0.4"/>
<text x="227.38" y="332.76" font-size="4.9" text-anchor="middle" fill="#111">Jan</text>
<text x="227.38" y="340.06" font-size="4.9" text-anchor="middle" fill="#111">2011</text>
<line x1="254.92" y1="325.2" x2="254.92" y2="326.5" stroke="#8a8a8a" stroke-width="0.4"/>
<text x="254.92" y="332.76" font-size="4.9" text-anchor="middle" fill="#111">Jan</text>
<text x="254.92" y="340.06" font-size="4.9" text-anchor="middle" fill="#111">2013</text>
<line x1="282.46" y1="325.2" x2="282.46" y2="326.5" stroke="#8a8a8a" stroke-width="0.4"/>
<text x="282.46" y="332.76" font-size="4.9" text-anchor="middle" fill="#111">Jan</text>
<text x="282.46" y="340.06" font-size="4.9" text-anchor="middle" fill="#111">2015</text>
<line x1="310.00" y1="325.2" x2="310.00" y2="326.5" stroke="#8a8a8a" stroke-width="0.4"/>
<text x="310.00" y="332.76" font-size="4.9" text-anchor="middle" fill="#111">Jan</text>
<text x="310.00" y="340.06" font-size="4.9" text-anchor="middle" fill="#111">2017</text>
<line x1="337.54" y1="325.2" x2="337.54" y2="326.5" stroke="#8a8a8a" stroke-width="0.4"/>
<text x="337.54" y="332.76" font-size="4.9" text-anchor="middle" fill="#111">Jan</text>
<text x="337.54" y="340.06" font-size="4.9" text-anchor="middle" fill="#111">2019</text>
<line x1="365.08" y1="325.2" x2="365.08" y2="326.5" stroke="#8a8a8a" stroke-width="0.4"/>
<text x="365.08" y="332.76" font-size="4.9" text-anchor="middle" fill="#111">Jan</text>
<text x="365.08" y="340.06" font-size="4.9" text-anchor="middle" fill="#111">2021</text>
<line x1="392.62" y1="325.2" x2="392.62" y2="326.5" stroke="#8a8a8a" stroke-width="0.4"/>
<text x="392.62" y="332.76" font-size="4.9" text-anchor="middle" fill="#111">Jan</text>
<text x="392.62" y="340.06" font-size="4.9" text-anchor="middle" fill="#111">2023</text>
<text x="162.0" y="332.76" font-size="5.2" text-anchor="end" fill="#111">Month</text>
<text x="162.0" y="340.06" font-size="5.2" text-anchor="end" fill="#111">Year</text>
<clipPath id="cpc"><rect x="166.8" y="196.8" width="236.39999999999998" height="128.39999999999998"/></clipPath>
<g clip-path="url(#cpc)" fill="none" stroke-linejoin="round">
<polyline points="172.30,307.25 173.45,315.33 174.60,313.85 175.74,310.27 176.89,312.99 178.04,307.33 179.19,308.53 180.33,312.56 181.48,314.81 182.63,305.80 183.77,315.24 184.92,303.08 186.07,311.68 187.22,309.80 188.37,308.00 189.51,315.02 190.66,312.14 191.81,303.76 192.96,311.63 194.10,314.17 195.25,292.60 196.40,315.56 197.54,309.75 198.69,311.32 199.84,311.64 200.99,314.54 202.14,312.41 203.28,311.79 204.43,314.88 205.58,315.29 206.73,304.04 207.87,312.98 209.02,294.14 210.17,315.96 211.31,312.92 212.46,306.80 213.61,314.18 214.76,311.79 215.91,310.93 217.05,311.41 218.20,313.73 219.35,310.32 220.50,304.37 221.64,310.51 222.79,300.52 223.94,314.55 225.08,312.21 226.23,309.26 227.38,307.13 228.53,313.35 229.68,313.16 230.82,305.14 231.97,302.44 233.12,306.65 234.27,310.13 235.41,269.94 236.56,313.39 237.71,313.51 238.85,311.35 240.00,307.41 241.15,312.02 242.30,304.94 243.45,297.87 244.59,313.44 245.74,303.64 246.89,301.89 248.04,299.25 249.18,266.20 250.33,312.07 251.48,305.26 252.62,307.26 253.77,289.20 254.92,287.73 256.07,309.02 257.22,308.38 258.36,306.59 259.51,307.39 260.66,303.88 261.81,293.28 262.95,258.28 264.10,310.91 265.25,300.61 266.39,305.45 267.54,283.66 268.69,304.80 269.84,311.08 270.99,301.35 272.13,301.23 273.28,285.87 274.43,302.07 275.57,248.82 276.72,310.01 277.87,302.26 279.02,284.76 280.16,301.12 281.31,286.44 282.46,308.05 283.61,299.93 284.76,306.75 285.90,301.84 287.05,299.58 288.20,290.98 289.35,244.20 290.49,308.15 291.64,309.08 292.79,294.57 293.93,308.85 295.08,305.48 296.23,301.06 297.38,303.93 298.53,308.29 299.67,303.11 300.82,291.94 301.97,242.44 303.12,306.13 304.26,291.16 305.41,304.29 306.56,298.21 307.70,289.52 308.85,281.43 310.00,272.78 311.15,288.97 312.30,292.58 313.44,299.11 314.59,300.54 315.74,223.08 316.88,304.64 318.03,301.24 319.18,296.17 320.33,293.70 321.47,276.84 322.62,288.28 323.77,246.44 324.92,301.06 326.07,296.01 327.21,294.96 328.36,257.40 329.51,249.48 330.65,303.90 331.80,271.43 332.95,280.57 334.10,271.58 335.24,295.66 336.39,274.40 337.54,297.23 338.69,292.89 339.84,286.81 340.98,292.20 342.13,203.06 343.28,310.20 344.43,287.57 345.57,287.62 346.72,280.73 347.87,302.42 349.01,298.08 350.16,270.60 351.31,288.54 352.46,307.99 353.61,298.82 354.75,290.20 355.90,302.37 357.05,279.40 358.19,294.53 359.34,301.27 360.49,304.61 361.64,289.46 362.78,295.40 363.93,278.98 365.08,277.33 366.23,302.12 367.38,285.23 368.52,297.76 369.67,275.00 370.82,284.91 371.97,296.31 373.11,315.70 374.26,313.50 375.41,298.30 376.55,303.28 377.70,291.85 378.85,266.66 380.00,296.20 381.15,307.65 382.29,224.18 383.44,317.24 384.59,289.21 385.74,282.39 386.88,289.49 388.03,303.26 389.18,309.21 390.32,296.37 391.47,269.94 392.62,302.26 393.77,306.08 394.92,302.66 396.06,242.44 397.21,310.25" stroke="#1466bc" stroke-width="1.0"/>
<g fill="#1466bc" stroke="none"><circle cx="172.30" cy="307.25" r="0.85"/><circle cx="173.45" cy="315.33" r="0.85"/><circle cx="174.60" cy="313.85" r="0.85"/><circle cx="175.74" cy="310.27" r="0.85"/><circle cx="176.89" cy="312.99" r="0.85"/><circle cx="178.04" cy="307.33" r="0.85"/><circle cx="179.19" cy="308.53" r="0.85"/><circle cx="180.33" cy="312.56" r="0.85"/><circle cx="181.48" cy="314.81" r="0.85"/><circle cx="182.63" cy="305.80" r="0.85"/><circle cx="183.77" cy="315.24" r="0.85"/><circle cx="184.92" cy="303.08" r="0.85"/><circle cx="186.07" cy="311.68" r="0.85"/><circle cx="187.22" cy="309.80" r="0.85"/><circle cx="188.37" cy="308.00" r="0.85"/><circle cx="189.51" cy="315.02" r="0.85"/><circle cx="190.66" cy="312.14" r="0.85"/><circle cx="191.81" cy="303.76" r="0.85"/><circle cx="192.96" cy="311.63" r="0.85"/><circle cx="194.10" cy="314.17" r="0.85"/><circle cx="195.25" cy="292.60" r="0.85"/><circle cx="196.40" cy="315.56" r="0.85"/><circle cx="197.54" cy="309.75" r="0.85"/><circle cx="198.69" cy="311.32" r="0.85"/><circle cx="199.84" cy="311.64" r="0.85"/><circle cx="200.99" cy="314.54" r="0.85"/><circle cx="202.14" cy="312.41" r="0.85"/><circle cx="203.28" cy="311.79" r="0.85"/><circle cx="204.43" cy="314.88" r="0.85"/><circle cx="205.58" cy="315.29" r="0.85"/><circle cx="206.73" cy="304.04" r="0.85"/><circle cx="207.87" cy="312.98" r="0.85"/><circle cx="209.02" cy="294.14" r="0.85"/><circle cx="210.17" cy="315.96" r="0.85"/><circle cx="211.31" cy="312.92" r="0.85"/><circle cx="212.46" cy="306.80" r="0.85"/><circle cx="213.61" cy="314.18" r="0.85"/><circle cx="214.76" cy="311.79" r="0.85"/><circle cx="215.91" cy="310.93" r="0.85"/><circle cx="217.05" cy="311.41" r="0.85"/><circle cx="218.20" cy="313.73" r="0.85"/><circle cx="219.35" cy="310.32" r="0.85"/><circle cx="220.50" cy="304.37" r="0.85"/><circle cx="221.64" cy="310.51" r="0.85"/><circle cx="222.79" cy="300.52" r="0.85"/><circle cx="223.94" cy="314.55" r="0.85"/><circle cx="225.08" cy="312.21" r="0.85"/><circle cx="226.23" cy="309.26" r="0.85"/><circle cx="227.38" cy="307.13" r="0.85"/><circle cx="228.53" cy="313.35" r="0.85"/><circle cx="229.68" cy="313.16" r="0.85"/><circle cx="230.82" cy="305.14" r="0.85"/><circle cx="231.97" cy="302.44" r="0.85"/><circle cx="233.12" cy="306.65" r="0.85"/><circle cx="234.27" cy="310.13" r="0.85"/><circle cx="235.41" cy="269.94" r="0.85"/><circle cx="236.56" cy="313.39" r="0.85"/><circle cx="237.71" cy="313.51" r="0.85"/><circle cx="238.85" cy="311.35" r="0.85"/><circle cx="240.00" cy="307.41" r="0.85"/><circle cx="241.15" cy="312.02" r="0.85"/><circle cx="242.30" cy="304.94" r="0.85"/><circle cx="243.45" cy="297.87" r="0.85"/><circle cx="244.59" cy="313.44" r="0.85"/><circle cx="245.74" cy="303.64" r="0.85"/><circle cx="246.89" cy="301.89" r="0.85"/><circle cx="248.04" cy="299.25" r="0.85"/><circle cx="249.18" cy="266.20" r="0.85"/><circle cx="250.33" cy="312.07" r="0.85"/><circle cx="251.48" cy="305.26" r="0.85"/><circle cx="252.62" cy="307.26" r="0.85"/><circle cx="253.77" cy="289.20" r="0.85"/><circle cx="254.92" cy="287.73" r="0.85"/><circle cx="256.07" cy="309.02" r="0.85"/><circle cx="257.22" cy="308.38" r="0.85"/><circle cx="258.36" cy="306.59" r="0.85"/><circle cx="259.51" cy="307.39" r="0.85"/><circle cx="260.66" cy="303.88" r="0.85"/><circle cx="261.81" cy="293.28" r="0.85"/><circle cx="262.95" cy="258.28" r="0.85"/><circle cx="264.10" cy="310.91" r="0.85"/><circle cx="265.25" cy="300.61" r="0.85"/><circle cx="266.39" cy="305.45" r="0.85"/><circle cx="267.54" cy="283.66" r="0.85"/><circle cx="268.69" cy="304.80" r="0.85"/><circle cx="269.84" cy="311.08" r="0.85"/><circle cx="270.99" cy="301.35" r="0.85"/><circle cx="272.13" cy="301.23" r="0.85"/><circle cx="273.28" cy="285.87" r="0.85"/><circle cx="274.43" cy="302.07" r="0.85"/><circle cx="275.57" cy="248.82" r="0.85"/><circle cx="276.72" cy="310.01" r="0.85"/><circle cx="277.87" cy="302.26" r="0.85"/><circle cx="279.02" cy="284.76" r="0.85"/><circle cx="280.16" cy="301.12" r="0.85"/><circle cx="281.31" cy="286.44" r="0.85"/><circle cx="282.46" cy="308.05" r="0.85"/><circle cx="283.61" cy="299.93" r="0.85"/><circle cx="284.76" cy="306.75" r="0.85"/><circle cx="285.90" cy="301.84" r="0.85"/><circle cx="287.05" cy="299.58" r="0.85"/><circle cx="288.20" cy="290.98" r="0.85"/><circle cx="289.35" cy="244.20" r="0.85"/><circle cx="290.49" cy="308.15" r="0.85"/><circle cx="291.64" cy="309.08" r="0.85"/><circle cx="292.79" cy="294.57" r="0.85"/><circle cx="293.93" cy="308.85" r="0.85"/><circle cx="295.08" cy="305.48" r="0.85"/><circle cx="296.23" cy="301.06" r="0.85"/><circle cx="297.38" cy="303.93" r="0.85"/><circle cx="298.53" cy="308.29" r="0.85"/><circle cx="299.67" cy="303.11" r="0.85"/><circle cx="300.82" cy="291.94" r="0.85"/><circle cx="301.97" cy="242.44" r="0.85"/><circle cx="303.12" cy="306.13" r="0.85"/><circle cx="304.26" cy="291.16" r="0.85"/><circle cx="305.41" cy="304.29" r="0.85"/><circle cx="306.56" cy="298.21" r="0.85"/><circle cx="307.70" cy="289.52" r="0.85"/><circle cx="308.85" cy="281.43" r="0.85"/><circle cx="310.00" cy="272.78" r="0.85"/><circle cx="311.15" cy="288.97" r="0.85"/><circle cx="312.30" cy="292.58" r="0.85"/><circle cx="313.44" cy="299.11" r="0.85"/><circle cx="314.59" cy="300.54" r="0.85"/><circle cx="315.74" cy="223.08" r="0.85"/><circle cx="316.88" cy="304.64" r="0.85"/><circle cx="318.03" cy="301.24" r="0.85"/><circle cx="319.18" cy="296.17" r="0.85"/><circle cx="320.33" cy="293.70" r="0.85"/><circle cx="321.47" cy="276.84" r="0.85"/><circle cx="322.62" cy="288.28" r="0.85"/><circle cx="323.77" cy="246.44" r="0.85"/><circle cx="324.92" cy="301.06" r="0.85"/><circle cx="326.07" cy="296.01" r="0.85"/><circle cx="327.21" cy="294.96" r="0.85"/><circle cx="328.36" cy="257.40" r="0.85"/><circle cx="329.51" cy="249.48" r="0.85"/><circle cx="330.65" cy="303.90" r="0.85"/><circle cx="331.80" cy="271.43" r="0.85"/><circle cx="332.95" cy="280.57" r="0.85"/><circle cx="334.10" cy="271.58" r="0.85"/><circle cx="335.24" cy="295.66" r="0.85"/><circle cx="336.39" cy="274.40" r="0.85"/><circle cx="337.54" cy="297.23" r="0.85"/><circle cx="338.69" cy="292.89" r="0.85"/><circle cx="339.84" cy="286.81" r="0.85"/><circle cx="340.98" cy="292.20" r="0.85"/><circle cx="342.13" cy="203.06" r="0.85"/><circle cx="343.28" cy="310.20" r="0.85"/><circle cx="344.43" cy="287.57" r="0.85"/><circle cx="345.57" cy="287.62" r="0.85"/><circle cx="346.72" cy="280.73" r="0.85"/><circle cx="347.87" cy="302.42" r="0.85"/><circle cx="349.01" cy="298.08" r="0.85"/><circle cx="350.16" cy="270.60" r="0.85"/><circle cx="351.31" cy="288.54" r="0.85"/><circle cx="352.46" cy="307.99" r="0.85"/><circle cx="353.61" cy="298.82" r="0.85"/><circle cx="354.75" cy="290.20" r="0.85"/><circle cx="355.90" cy="302.37" r="0.85"/><circle cx="357.05" cy="279.40" r="0.85"/><circle cx="358.19" cy="294.53" r="0.85"/><circle cx="359.34" cy="301.27" r="0.85"/><circle cx="360.49" cy="304.61" r="0.85"/><circle cx="361.64" cy="289.46" r="0.85"/><circle cx="362.78" cy="295.40" r="0.85"/><circle cx="363.93" cy="278.98" r="0.85"/><circle cx="365.08" cy="277.33" r="0.85"/><circle cx="366.23" cy="302.12" r="0.85"/><circle cx="367.38" cy="285.23" r="0.85"/><circle cx="368.52" cy="297.76" r="0.85"/><circle cx="369.67" cy="275.00" r="0.85"/><circle cx="370.82" cy="284.91" r="0.85"/><circle cx="371.97" cy="296.31" r="0.85"/><circle cx="373.11" cy="315.70" r="0.85"/><circle cx="374.26" cy="313.50" r="0.85"/><circle cx="375.41" cy="298.30" r="0.85"/><circle cx="376.55" cy="303.28" r="0.85"/><circle cx="377.70" cy="291.85" r="0.85"/><circle cx="378.85" cy="266.66" r="0.85"/><circle cx="380.00" cy="296.20" r="0.85"/><circle cx="381.15" cy="307.65" r="0.85"/><circle cx="382.29" cy="224.18" r="0.85"/><circle cx="383.44" cy="317.24" r="0.85"/><circle cx="384.59" cy="289.21" r="0.85"/><circle cx="385.74" cy="282.39" r="0.85"/><circle cx="386.88" cy="289.49" r="0.85"/><circle cx="388.03" cy="303.26" r="0.85"/><circle cx="389.18" cy="309.21" r="0.85"/><circle cx="390.32" cy="296.37" r="0.85"/><circle cx="391.47" cy="269.94" r="0.85"/><circle cx="392.62" cy="302.26" r="0.85"/><circle cx="393.77" cy="306.08" r="0.85"/><circle cx="394.92" cy="302.66" r="0.85"/><circle cx="396.06" cy="242.44" r="0.85"/><circle cx="397.21" cy="310.25" r="0.85"/></g>
<polyline points="172.30,312.36 173.45,313.28 174.60,313.58 175.74,312.62 176.89,312.46 178.04,312.96 179.19,311.54 180.33,311.70 181.48,313.80 182.63,309.84 183.77,313.98 184.92,311.22 186.07,308.67 187.22,311.46 188.37,312.74 189.51,312.85 190.66,312.93 191.81,311.30 192.96,311.38 194.10,312.79 195.25,309.27 196.40,314.41 197.54,312.73 198.69,310.35 199.84,311.46 200.99,313.80 202.14,313.90 203.28,312.93 204.43,311.78 205.58,312.61 206.73,310.06 207.87,309.82 209.02,309.69 210.17,314.94 211.31,312.59 212.46,311.33 213.61,313.25 214.76,314.03 215.91,312.71 217.05,311.96 218.20,309.79 219.35,308.36 220.50,310.91 221.64,308.65 222.79,308.52 223.94,313.06 225.08,309.65 226.23,306.80 227.38,307.77 228.53,311.41 229.68,311.45 230.82,309.39 231.97,308.16 233.12,305.87 234.27,307.09 235.41,295.14 236.56,311.52 237.71,311.88 238.85,308.57 240.00,299.97 241.15,302.72 242.30,307.97 243.45,306.32 244.59,307.87 245.74,304.86 246.89,303.13 248.04,296.73 249.18,292.55 250.33,309.76 251.48,305.71 252.62,306.63 253.77,297.93 254.92,296.21 256.07,303.16 257.22,303.20 258.36,304.07 259.51,299.44 260.66,300.95 261.81,303.66 262.95,288.31 264.10,308.22 265.25,298.00 266.39,304.66 267.54,297.31 268.69,296.06 269.84,301.87 270.99,300.29 272.13,300.05 273.28,298.71 274.43,302.83 275.57,278.98 276.72,307.01 277.87,298.06 279.02,297.48 280.16,296.96 281.31,288.73 282.46,298.26 283.61,302.04 284.76,304.93 285.90,298.47 287.05,295.96 288.20,292.26 289.35,280.04 290.49,304.54 291.64,299.73 292.79,296.67 293.93,302.32 295.08,293.59 296.23,302.47 297.38,301.72 298.53,298.90 299.67,301.15 300.82,296.88 301.97,276.71 303.12,301.84 304.26,290.52 305.41,290.80 306.56,298.27 307.70,296.40 308.85,294.54 310.00,284.14 311.15,290.50 312.30,296.32 313.44,295.64 314.59,298.94 315.74,257.02 316.88,299.86 318.03,284.70 319.18,297.99 320.33,293.12 321.47,279.07 322.62,291.83 323.77,281.36 324.92,293.69 326.07,286.09 327.21,295.79 328.36,287.37 329.51,274.10 330.65,298.87 331.80,290.30 332.95,299.24 334.10,285.83 335.24,279.31 336.39,280.04 337.54,290.90 338.69,279.93 339.84,290.85 340.98,291.19 342.13,259.60 343.28,299.09 344.43,283.05 345.57,289.94 346.72,290.86 347.87,283.34 349.01,290.78 350.16,280.08 351.31,275.42 352.46,288.90 353.61,296.70 354.75,292.87 355.90,261.80 357.05,287.47 358.19,290.05 359.34,298.85 360.49,301.28 361.64,297.60 362.78,295.16 363.93,289.62 365.08,283.48 366.23,292.78 367.38,298.21 368.52,300.19 369.67,295.01 370.82,284.52 371.97,291.82 373.11,305.02 374.26,306.02 375.41,303.64 376.55,303.17 377.70,303.74 378.85,297.40 380.00,299.95 381.15,304.18 382.29,259.99 383.44,305.58 384.59,297.02 385.74,297.35 386.88,295.29 388.03,292.06 389.18,296.88 390.32,303.50 391.47,290.00 392.62,297.67 393.77,305.22 394.92,301.09 396.06,270.06 397.21,307.34" stroke="#c8102e" stroke-width="1.0" stroke-dasharray="3 0.9"/>
<g fill="#c8102e" stroke="none"><rect x="171.45" y="311.51" width="1.7" height="1.7"/><rect x="172.60" y="312.43" width="1.7" height="1.7"/><rect x="173.75" y="312.73" width="1.7" height="1.7"/><rect x="174.89" y="311.77" width="1.7" height="1.7"/><rect x="176.04" y="311.61" width="1.7" height="1.7"/><rect x="177.19" y="312.11" width="1.7" height="1.7"/><rect x="178.34" y="310.69" width="1.7" height="1.7"/><rect x="179.48" y="310.85" width="1.7" height="1.7"/><rect x="180.63" y="312.95" width="1.7" height="1.7"/><rect x="181.78" y="308.99" width="1.7" height="1.7"/><rect x="182.92" y="313.13" width="1.7" height="1.7"/><rect x="184.07" y="310.37" width="1.7" height="1.7"/><rect x="185.22" y="307.82" width="1.7" height="1.7"/><rect x="186.37" y="310.61" width="1.7" height="1.7"/><rect x="187.52" y="311.89" width="1.7" height="1.7"/><rect x="188.66" y="312.00" width="1.7" height="1.7"/><rect x="189.81" y="312.08" width="1.7" height="1.7"/><rect x="190.96" y="310.45" width="1.7" height="1.7"/><rect x="192.11" y="310.53" width="1.7" height="1.7"/><rect x="193.25" y="311.94" width="1.7" height="1.7"/><rect x="194.40" y="308.42" width="1.7" height="1.7"/><rect x="195.55" y="313.56" width="1.7" height="1.7"/><rect x="196.69" y="311.88" width="1.7" height="1.7"/><rect x="197.84" y="309.50" width="1.7" height="1.7"/><rect x="198.99" y="310.61" width="1.7" height="1.7"/><rect x="200.14" y="312.95" width="1.7" height="1.7"/><rect x="201.29" y="313.05" width="1.7" height="1.7"/><rect x="202.43" y="312.08" width="1.7" height="1.7"/><rect x="203.58" y="310.93" width="1.7" height="1.7"/><rect x="204.73" y="311.76" width="1.7" height="1.7"/><rect x="205.88" y="309.21" width="1.7" height="1.7"/><rect x="207.02" y="308.97" width="1.7" height="1.7"/><rect x="208.17" y="308.84" width="1.7" height="1.7"/><rect x="209.32" y="314.09" width="1.7" height="1.7"/><rect x="210.46" y="311.74" width="1.7" height="1.7"/><rect x="211.61" y="310.48" width="1.7" height="1.7"/><rect x="212.76" y="312.40" width="1.7" height="1.7"/><rect x="213.91" y="313.18" width="1.7" height="1.7"/><rect x="215.06" y="311.86" width="1.7" height="1.7"/><rect x="216.20" y="311.11" width="1.7" height="1.7"/><rect x="217.35" y="308.94" width="1.7" height="1.7"/><rect x="218.50" y="307.51" width="1.7" height="1.7"/><rect x="219.65" y="310.06" width="1.7" height="1.7"/><rect x="220.79" y="307.80" width="1.7" height="1.7"/><rect x="221.94" y="307.67" width="1.7" height="1.7"/><rect x="223.09" y="312.21" width="1.7" height="1.7"/><rect x="224.23" y="308.80" width="1.7" height="1.7"/><rect x="225.38" y="305.95" width="1.7" height="1.7"/><rect x="226.53" y="306.92" width="1.7" height="1.7"/><rect x="227.68" y="310.56" width="1.7" height="1.7"/><rect x="228.83" y="310.60" width="1.7" height="1.7"/><rect x="229.97" y="308.54" width="1.7" height="1.7"/><rect x="231.12" y="307.31" width="1.7" height="1.7"/><rect x="232.27" y="305.02" width="1.7" height="1.7"/><rect x="233.42" y="306.24" width="1.7" height="1.7"/><rect x="234.56" y="294.29" width="1.7" height="1.7"/><rect x="235.71" y="310.67" width="1.7" height="1.7"/><rect x="236.86" y="311.03" width="1.7" height="1.7"/><rect x="238.00" y="307.72" width="1.7" height="1.7"/><rect x="239.15" y="299.12" width="1.7" height="1.7"/><rect x="240.30" y="301.87" width="1.7" height="1.7"/><rect x="241.45" y="307.12" width="1.7" height="1.7"/><rect x="242.60" y="305.47" width="1.7" height="1.7"/><rect x="243.74" y="307.02" width="1.7" height="1.7"/><rect x="244.89" y="304.01" width="1.7" height="1.7"/><rect x="246.04" y="302.28" width="1.7" height="1.7"/><rect x="247.19" y="295.88" width="1.7" height="1.7"/><rect x="248.33" y="291.70" width="1.7" height="1.7"/><rect x="249.48" y="308.91" width="1.7" height="1.7"/><rect x="250.63" y="304.86" width="1.7" height="1.7"/><rect x="251.77" y="305.78" width="1.7" height="1.7"/><rect x="252.92" y="297.08" width="1.7" height="1.7"/><rect x="254.07" y="295.36" width="1.7" height="1.7"/><rect x="255.22" y="302.31" width="1.7" height="1.7"/><rect x="256.37" y="302.35" width="1.7" height="1.7"/><rect x="257.51" y="303.22" width="1.7" height="1.7"/><rect x="258.66" y="298.59" width="1.7" height="1.7"/><rect x="259.81" y="300.10" width="1.7" height="1.7"/><rect x="260.95" y="302.81" width="1.7" height="1.7"/><rect x="262.10" y="287.46" width="1.7" height="1.7"/><rect x="263.25" y="307.37" width="1.7" height="1.7"/><rect x="264.40" y="297.15" width="1.7" height="1.7"/><rect x="265.54" y="303.81" width="1.7" height="1.7"/><rect x="266.69" y="296.46" width="1.7" height="1.7"/><rect x="267.84" y="295.21" width="1.7" height="1.7"/><rect x="268.99" y="301.02" width="1.7" height="1.7"/><rect x="270.14" y="299.44" width="1.7" height="1.7"/><rect x="271.28" y="299.20" width="1.7" height="1.7"/><rect x="272.43" y="297.86" width="1.7" height="1.7"/><rect x="273.58" y="301.98" width="1.7" height="1.7"/><rect x="274.72" y="278.13" width="1.7" height="1.7"/><rect x="275.87" y="306.16" width="1.7" height="1.7"/><rect x="277.02" y="297.21" width="1.7" height="1.7"/><rect x="278.17" y="296.63" width="1.7" height="1.7"/><rect x="279.31" y="296.11" width="1.7" height="1.7"/><rect x="280.46" y="287.88" width="1.7" height="1.7"/><rect x="281.61" y="297.41" width="1.7" height="1.7"/><rect x="282.76" y="301.19" width="1.7" height="1.7"/><rect x="283.91" y="304.08" width="1.7" height="1.7"/><rect x="285.05" y="297.62" width="1.7" height="1.7"/><rect x="286.20" y="295.11" width="1.7" height="1.7"/><rect x="287.35" y="291.41" width="1.7" height="1.7"/><rect x="288.50" y="279.19" width="1.7" height="1.7"/><rect x="289.64" y="303.69" width="1.7" height="1.7"/><rect x="290.79" y="298.88" width="1.7" height="1.7"/><rect x="291.94" y="295.82" width="1.7" height="1.7"/><rect x="293.08" y="301.47" width="1.7" height="1.7"/><rect x="294.23" y="292.74" width="1.7" height="1.7"/><rect x="295.38" y="301.62" width="1.7" height="1.7"/><rect x="296.53" y="300.87" width="1.7" height="1.7"/><rect x="297.68" y="298.05" width="1.7" height="1.7"/><rect x="298.82" y="300.30" width="1.7" height="1.7"/><rect x="299.97" y="296.03" width="1.7" height="1.7"/><rect x="301.12" y="275.86" width="1.7" height="1.7"/><rect x="302.26" y="300.99" width="1.7" height="1.7"/><rect x="303.41" y="289.67" width="1.7" height="1.7"/><rect x="304.56" y="289.95" width="1.7" height="1.7"/><rect x="305.71" y="297.42" width="1.7" height="1.7"/><rect x="306.85" y="295.55" width="1.7" height="1.7"/><rect x="308.00" y="293.69" width="1.7" height="1.7"/><rect x="309.15" y="283.29" width="1.7" height="1.7"/><rect x="310.30" y="289.65" width="1.7" height="1.7"/><rect x="311.45" y="295.47" width="1.7" height="1.7"/><rect x="312.59" y="294.79" width="1.7" height="1.7"/><rect x="313.74" y="298.09" width="1.7" height="1.7"/><rect x="314.89" y="256.17" width="1.7" height="1.7"/><rect x="316.03" y="299.01" width="1.7" height="1.7"/><rect x="317.18" y="283.85" width="1.7" height="1.7"/><rect x="318.33" y="297.14" width="1.7" height="1.7"/><rect x="319.48" y="292.27" width="1.7" height="1.7"/><rect x="320.62" y="278.22" width="1.7" height="1.7"/><rect x="321.77" y="290.98" width="1.7" height="1.7"/><rect x="322.92" y="280.51" width="1.7" height="1.7"/><rect x="324.07" y="292.84" width="1.7" height="1.7"/><rect x="325.22" y="285.24" width="1.7" height="1.7"/><rect x="326.36" y="294.94" width="1.7" height="1.7"/><rect x="327.51" y="286.52" width="1.7" height="1.7"/><rect x="328.66" y="273.25" width="1.7" height="1.7"/><rect x="329.80" y="298.02" width="1.7" height="1.7"/><rect x="330.95" y="289.45" width="1.7" height="1.7"/><rect x="332.10" y="298.39" width="1.7" height="1.7"/><rect x="333.25" y="284.98" width="1.7" height="1.7"/><rect x="334.39" y="278.46" width="1.7" height="1.7"/><rect x="335.54" y="279.19" width="1.7" height="1.7"/><rect x="336.69" y="290.05" width="1.7" height="1.7"/><rect x="337.84" y="279.08" width="1.7" height="1.7"/><rect x="338.99" y="290.00" width="1.7" height="1.7"/><rect x="340.13" y="290.34" width="1.7" height="1.7"/><rect x="341.28" y="258.75" width="1.7" height="1.7"/><rect x="342.43" y="298.24" width="1.7" height="1.7"/><rect x="343.57" y="282.20" width="1.7" height="1.7"/><rect x="344.72" y="289.09" width="1.7" height="1.7"/><rect x="345.87" y="290.01" width="1.7" height="1.7"/><rect x="347.02" y="282.49" width="1.7" height="1.7"/><rect x="348.16" y="289.93" width="1.7" height="1.7"/><rect x="349.31" y="279.23" width="1.7" height="1.7"/><rect x="350.46" y="274.57" width="1.7" height="1.7"/><rect x="351.61" y="288.05" width="1.7" height="1.7"/><rect x="352.76" y="295.85" width="1.7" height="1.7"/><rect x="353.90" y="292.02" width="1.7" height="1.7"/><rect x="355.05" y="260.95" width="1.7" height="1.7"/><rect x="356.20" y="286.62" width="1.7" height="1.7"/><rect x="357.34" y="289.20" width="1.7" height="1.7"/><rect x="358.49" y="298.00" width="1.7" height="1.7"/><rect x="359.64" y="300.43" width="1.7" height="1.7"/><rect x="360.79" y="296.75" width="1.7" height="1.7"/><rect x="361.93" y="294.31" width="1.7" height="1.7"/><rect x="363.08" y="288.77" width="1.7" height="1.7"/><rect x="364.23" y="282.63" width="1.7" height="1.7"/><rect x="365.38" y="291.93" width="1.7" height="1.7"/><rect x="366.53" y="297.36" width="1.7" height="1.7"/><rect x="367.67" y="299.34" width="1.7" height="1.7"/><rect x="368.82" y="294.16" width="1.7" height="1.7"/><rect x="369.97" y="283.67" width="1.7" height="1.7"/><rect x="371.12" y="290.97" width="1.7" height="1.7"/><rect x="372.26" y="304.17" width="1.7" height="1.7"/><rect x="373.41" y="305.17" width="1.7" height="1.7"/><rect x="374.56" y="302.79" width="1.7" height="1.7"/><rect x="375.70" y="302.32" width="1.7" height="1.7"/><rect x="376.85" y="302.89" width="1.7" height="1.7"/><rect x="378.00" y="296.55" width="1.7" height="1.7"/><rect x="379.15" y="299.10" width="1.7" height="1.7"/><rect x="380.30" y="303.33" width="1.7" height="1.7"/><rect x="381.44" y="259.14" width="1.7" height="1.7"/><rect x="382.59" y="304.73" width="1.7" height="1.7"/><rect x="383.74" y="296.17" width="1.7" height="1.7"/><rect x="384.88" y="296.50" width="1.7" height="1.7"/><rect x="386.03" y="294.44" width="1.7" height="1.7"/><rect x="387.18" y="291.21" width="1.7" height="1.7"/><rect x="388.33" y="296.03" width="1.7" height="1.7"/><rect x="389.47" y="302.65" width="1.7" height="1.7"/><rect x="390.62" y="289.15" width="1.7" height="1.7"/><rect x="391.77" y="296.82" width="1.7" height="1.7"/><rect x="392.92" y="304.37" width="1.7" height="1.7"/><rect x="394.07" y="300.24" width="1.7" height="1.7"/><rect x="395.21" y="269.21" width="1.7" height="1.7"/><rect x="396.36" y="306.49" width="1.7" height="1.7"/></g>
<polyline points="172.30,312.98 173.45,312.56 174.60,314.00 175.74,313.93 176.89,312.14 178.04,313.42 179.19,311.89 180.33,312.06 181.48,313.92 182.63,306.90 183.77,314.40 184.92,310.28 186.07,310.16 187.22,310.34 188.37,311.58 189.51,313.50 190.66,312.96 191.81,311.03 192.96,311.38 194.10,313.14 195.25,309.52 196.40,314.80 197.54,309.67 198.69,312.18 199.84,311.23 200.99,313.10 202.14,314.31 203.28,312.40 204.43,312.35 205.58,313.67 206.73,310.52 207.87,311.48 209.02,310.00 210.17,315.28 211.31,314.02 212.46,312.94 213.61,313.55 214.76,313.79 215.91,314.24 217.05,311.53 218.20,311.05 219.35,309.12 220.50,310.53 221.64,311.15 222.79,308.64 223.94,313.56 225.08,308.43 226.23,309.48 227.38,308.01 228.53,310.45 229.68,311.94 230.82,310.76 231.97,308.94 233.12,306.94 234.27,306.55 235.41,296.59 236.56,312.14 237.71,312.63 238.85,309.87 240.00,299.47 241.15,303.00 242.30,305.72 243.45,308.42 244.59,307.16 245.74,306.85 246.89,302.67 248.04,296.73 249.18,293.97 250.33,310.53 251.48,307.65 252.62,304.84 253.77,300.98 254.92,298.50 256.07,305.43 257.22,301.26 258.36,307.33 259.51,300.92 260.66,301.79 261.81,303.87 262.95,289.93 264.10,309.12 265.25,296.72 266.39,302.82 267.54,292.80 268.69,290.95 269.84,297.41 270.99,302.19 272.13,302.32 273.28,304.33 274.43,300.79 275.57,281.51 276.72,308.01 277.87,294.35 279.02,294.16 280.16,292.09 281.31,287.92 282.46,301.83 283.61,303.07 284.76,306.66 285.90,302.11 287.05,295.20 288.20,288.81 289.35,281.96 290.49,305.74 291.64,300.52 292.79,299.69 293.93,302.05 295.08,297.14 296.23,297.28 297.38,297.74 298.53,297.60 299.67,301.10 300.82,296.79 301.97,278.46 303.12,303.27 304.26,286.89 305.41,290.41 306.56,297.58 307.70,300.47 308.85,292.17 310.00,283.88 311.15,289.36 312.30,296.82 313.44,297.99 314.59,302.68 315.74,260.81 316.88,301.45 318.03,270.88 319.18,296.05 320.33,289.74 321.47,286.68 322.62,293.47 323.77,281.52 324.92,293.44 326.07,289.90 327.21,294.55 328.36,281.61 329.51,275.53 330.65,300.55 331.80,285.56 332.95,302.97 334.10,282.35 335.24,279.60 336.39,285.69 337.54,291.03 338.69,284.51 339.84,289.88 340.98,297.42 342.13,261.80 343.28,300.75 344.43,280.25 345.57,293.00 346.72,294.29 347.87,285.39 349.01,289.93 350.16,279.69 351.31,271.15 352.46,288.96 353.61,300.61 354.75,291.73 355.90,264.00 357.05,289.83 358.19,295.55 359.34,295.76 360.49,297.65 361.64,295.12 362.78,296.66 363.93,292.93 365.08,277.40 366.23,297.23 367.38,302.09 368.52,298.37 369.67,296.11 370.82,278.57 371.97,287.19 373.11,304.36 374.26,306.00 375.41,308.45 376.55,302.95 377.70,301.15 378.85,289.47 380.00,291.76 381.15,306.14 382.29,264.55 383.44,306.70 384.59,301.37 385.74,288.76 386.88,294.29 388.03,295.56 389.18,298.17 390.32,299.86 391.47,288.40 392.62,303.31 393.77,304.16 394.92,300.63 396.06,273.70 397.21,308.31" stroke="#0a8a1e" stroke-width="1.0" stroke-dasharray="2.4 0.9"/>
<g fill="#0a8a1e" stroke="none"><path d="M171.03 312.98L172.30 311.71L173.58 312.98L172.30 314.26Z"/><path d="M172.17 312.56L173.45 311.29L174.72 312.56L173.45 313.84Z"/><path d="M173.32 314.00L174.60 312.73L175.87 314.00L174.60 315.28Z"/><path d="M174.47 313.93L175.74 312.65L177.02 313.93L175.74 315.20Z"/><path d="M175.61 312.14L176.89 310.86L178.16 312.14L176.89 313.41Z"/><path d="M176.76 313.42L178.04 312.14L179.31 313.42L178.04 314.69Z"/><path d="M177.91 311.89L179.19 310.62L180.46 311.89L179.19 313.17Z"/><path d="M179.06 312.06L180.33 310.78L181.61 312.06L180.33 313.33Z"/><path d="M180.21 313.92L181.48 312.64L182.76 313.92L181.48 315.19Z"/><path d="M181.35 306.90L182.63 305.62L183.90 306.90L182.63 308.17Z"/><path d="M182.50 314.40L183.77 313.13L185.05 314.40L183.77 315.68Z"/><path d="M183.65 310.28L184.92 309.00L186.20 310.28L184.92 311.55Z"/><path d="M184.80 310.16L186.07 308.88L187.35 310.16L186.07 311.43Z"/><path d="M185.94 310.34L187.22 309.06L188.49 310.34L187.22 311.61Z"/><path d="M187.09 311.58L188.37 310.30L189.64 311.58L188.37 312.85Z"/><path d="M188.24 313.50L189.51 312.23L190.79 313.50L189.51 314.78Z"/><path d="M189.38 312.96L190.66 311.68L191.93 312.96L190.66 314.23Z"/><path d="M190.53 311.03L191.81 309.75L193.08 311.03L191.81 312.30Z"/><path d="M191.68 311.38L192.96 310.11L194.23 311.38L192.96 312.66Z"/><path d="M192.83 313.14L194.10 311.87L195.38 313.14L194.10 314.42Z"/><path d="M193.98 309.52L195.25 308.24L196.53 309.52L195.25 310.79Z"/><path d="M195.12 314.80L196.40 313.52L197.67 314.80L196.40 316.07Z"/><path d="M196.27 309.67L197.54 308.40L198.82 309.67L197.54 310.95Z"/><path d="M197.42 312.18L198.69 310.91L199.97 312.18L198.69 313.46Z"/><path d="M198.56 311.23L199.84 309.95L201.12 311.23L199.84 312.50Z"/><path d="M199.71 313.10L200.99 311.82L202.26 313.10L200.99 314.37Z"/><path d="M200.86 314.31L202.14 313.03L203.41 314.31L202.14 315.58Z"/><path d="M202.01 312.40L203.28 311.13L204.56 312.40L203.28 313.68Z"/><path d="M203.15 312.35L204.43 311.07L205.70 312.35L204.43 313.62Z"/><path d="M204.30 313.67L205.58 312.40L206.85 313.67L205.58 314.95Z"/><path d="M205.45 310.52L206.73 309.25L208.00 310.52L206.73 311.80Z"/><path d="M206.60 311.48L207.87 310.20L209.15 311.48L207.87 312.75Z"/><path d="M207.75 310.00L209.02 308.73L210.30 310.00L209.02 311.28Z"/><path d="M208.89 315.28L210.17 314.00L211.44 315.28L210.17 316.55Z"/><path d="M210.04 314.02L211.31 312.75L212.59 314.02L211.31 315.30Z"/><path d="M211.19 312.94L212.46 311.67L213.74 312.94L212.46 314.22Z"/><path d="M212.34 313.55L213.61 312.28L214.89 313.55L213.61 314.83Z"/><path d="M213.48 313.79L214.76 312.51L216.03 313.79L214.76 315.06Z"/><path d="M214.63 314.24L215.91 312.97L217.18 314.24L215.91 315.52Z"/><path d="M215.78 311.53L217.05 310.26L218.33 311.53L217.05 312.81Z"/><path d="M216.92 311.05L218.20 309.78L219.47 311.05L218.20 312.33Z"/><path d="M218.07 309.12L219.35 307.85L220.62 309.12L219.35 310.40Z"/><path d="M219.22 310.53L220.50 309.26L221.77 310.53L220.50 311.81Z"/><path d="M220.37 311.15L221.64 309.88L222.92 311.15L221.64 312.43Z"/><path d="M221.52 308.64L222.79 307.36L224.07 308.64L222.79 309.91Z"/><path d="M222.66 313.56L223.94 312.28L225.21 313.56L223.94 314.83Z"/><path d="M223.81 308.43L225.08 307.16L226.36 308.43L225.08 309.71Z"/><path d="M224.96 309.48L226.23 308.20L227.51 309.48L226.23 310.75Z"/><path d="M226.10 308.01L227.38 306.73L228.66 308.01L227.38 309.28Z"/><path d="M227.25 310.45L228.53 309.17L229.80 310.45L228.53 311.72Z"/><path d="M228.40 311.94L229.68 310.67L230.95 311.94L229.68 313.22Z"/><path d="M229.55 310.76L230.82 309.49L232.10 310.76L230.82 312.04Z"/><path d="M230.69 308.94L231.97 307.67L233.24 308.94L231.97 310.22Z"/><path d="M231.84 306.94L233.12 305.67L234.39 306.94L233.12 308.22Z"/><path d="M232.99 306.55L234.27 305.27L235.54 306.55L234.27 307.82Z"/><path d="M234.14 296.59L235.41 295.31L236.69 296.59L235.41 297.86Z"/><path d="M235.29 312.14L236.56 310.87L237.84 312.14L236.56 313.42Z"/><path d="M236.43 312.63L237.71 311.36L238.98 312.63L237.71 313.91Z"/><path d="M237.58 309.87L238.85 308.59L240.13 309.87L238.85 311.14Z"/><path d="M238.73 299.47L240.00 298.20L241.28 299.47L240.00 300.75Z"/><path d="M239.88 303.00L241.15 301.72L242.43 303.00L241.15 304.27Z"/><path d="M241.02 305.72L242.30 304.44L243.57 305.72L242.30 306.99Z"/><path d="M242.17 308.42L243.45 307.15L244.72 308.42L243.45 309.70Z"/><path d="M243.32 307.16L244.59 305.89L245.87 307.16L244.59 308.44Z"/><path d="M244.46 306.85L245.74 305.58L247.01 306.85L245.74 308.13Z"/><path d="M245.61 302.67L246.89 301.40L248.16 302.67L246.89 303.95Z"/><path d="M246.76 296.73L248.04 295.45L249.31 296.73L248.04 298.00Z"/><path d="M247.91 293.97L249.18 292.69L250.46 293.97L249.18 295.24Z"/><path d="M249.06 310.53L250.33 309.25L251.61 310.53L250.33 311.80Z"/><path d="M250.20 307.65L251.48 306.37L252.75 307.65L251.48 308.92Z"/><path d="M251.35 304.84L252.62 303.57L253.90 304.84L252.62 306.12Z"/><path d="M252.50 300.98L253.77 299.71L255.05 300.98L253.77 302.26Z"/><path d="M253.65 298.50L254.92 297.23L256.19 298.50L254.92 299.78Z"/><path d="M254.79 305.43L256.07 304.16L257.34 305.43L256.07 306.71Z"/><path d="M255.94 301.26L257.22 299.98L258.49 301.26L257.22 302.53Z"/><path d="M257.09 307.33L258.36 306.06L259.64 307.33L258.36 308.61Z"/><path d="M258.23 300.92L259.51 299.65L260.78 300.92L259.51 302.20Z"/><path d="M259.38 301.79L260.66 300.52L261.93 301.79L260.66 303.07Z"/><path d="M260.53 303.87L261.81 302.59L263.08 303.87L261.81 305.14Z"/><path d="M261.68 289.93L262.95 288.65L264.23 289.93L262.95 291.20Z"/><path d="M262.83 309.12L264.10 307.84L265.38 309.12L264.10 310.39Z"/><path d="M263.97 296.72L265.25 295.44L266.52 296.72L265.25 297.99Z"/><path d="M265.12 302.82L266.39 301.55L267.67 302.82L266.39 304.10Z"/><path d="M266.27 292.80L267.54 291.53L268.82 292.80L267.54 294.08Z"/><path d="M267.42 290.95L268.69 289.68L269.96 290.95L268.69 292.22Z"/><path d="M268.56 297.41L269.84 296.13L271.11 297.41L269.84 298.68Z"/><path d="M269.71 302.19L270.99 300.91L272.26 302.19L270.99 303.46Z"/><path d="M270.86 302.32L272.13 301.05L273.41 302.32L272.13 303.60Z"/><path d="M272.00 304.33L273.28 303.06L274.55 304.33L273.28 305.61Z"/><path d="M273.15 300.79L274.43 299.52L275.70 300.79L274.43 302.07Z"/><path d="M274.30 281.51L275.57 280.23L276.85 281.51L275.57 282.78Z"/><path d="M275.45 308.01L276.72 306.73L278.00 308.01L276.72 309.28Z"/><path d="M276.60 294.35L277.87 293.08L279.15 294.35L277.87 295.63Z"/><path d="M277.74 294.16L279.02 292.89L280.29 294.16L279.02 295.44Z"/><path d="M278.89 292.09L280.16 290.82L281.44 292.09L280.16 293.37Z"/><path d="M280.04 287.92L281.31 286.65L282.59 287.92L281.31 289.20Z"/><path d="M281.19 301.83L282.46 300.56L283.74 301.83L282.46 303.11Z"/><path d="M282.33 303.07L283.61 301.79L284.88 303.07L283.61 304.34Z"/><path d="M283.48 306.66L284.76 305.39L286.03 306.66L284.76 307.94Z"/><path d="M284.63 302.11L285.90 300.84L287.18 302.11L285.90 303.39Z"/><path d="M285.77 295.20L287.05 293.92L288.32 295.20L287.05 296.47Z"/><path d="M286.92 288.81L288.20 287.53L289.47 288.81L288.20 290.08Z"/><path d="M288.07 281.96L289.35 280.68L290.62 281.96L289.35 283.23Z"/><path d="M289.22 305.74L290.49 304.47L291.77 305.74L290.49 307.02Z"/><path d="M290.37 300.52L291.64 299.24L292.92 300.52L291.64 301.79Z"/><path d="M291.51 299.69L292.79 298.42L294.06 299.69L292.79 300.97Z"/><path d="M292.66 302.05L293.93 300.77L295.21 302.05L293.93 303.32Z"/><path d="M293.81 297.14L295.08 295.87L296.36 297.14L295.08 298.42Z"/><path d="M294.96 297.28L296.23 296.00L297.50 297.28L296.23 298.55Z"/><path d="M296.10 297.74L297.38 296.46L298.65 297.74L297.38 299.01Z"/><path d="M297.25 297.60L298.53 296.33L299.80 297.60L298.53 298.88Z"/><path d="M298.40 301.10L299.67 299.83L300.95 301.10L299.67 302.38Z"/><path d="M299.54 296.79L300.82 295.52L302.09 296.79L300.82 298.07Z"/><path d="M300.69 278.46L301.97 277.19L303.24 278.46L301.97 279.74Z"/><path d="M301.84 303.27L303.12 302.00L304.39 303.27L303.12 304.54Z"/><path d="M302.99 286.89L304.26 285.61L305.54 286.89L304.26 288.16Z"/><path d="M304.14 290.41L305.41 289.14L306.69 290.41L305.41 291.69Z"/><path d="M305.28 297.58L306.56 296.30L307.83 297.58L306.56 298.85Z"/><path d="M306.43 300.47L307.70 299.20L308.98 300.47L307.70 301.75Z"/><path d="M307.58 292.17L308.85 290.90L310.13 292.17L308.85 293.45Z"/><path d="M308.73 283.88L310.00 282.60L311.27 283.88L310.00 285.15Z"/><path d="M309.87 289.36L311.15 288.09L312.42 289.36L311.15 290.64Z"/><path d="M311.02 296.82L312.30 295.54L313.57 296.82L312.30 298.09Z"/><path d="M312.17 297.99L313.44 296.72L314.72 297.99L313.44 299.27Z"/><path d="M313.31 302.68L314.59 301.41L315.86 302.68L314.59 303.96Z"/><path d="M314.46 260.81L315.74 259.53L317.01 260.81L315.74 262.08Z"/><path d="M315.61 301.45L316.88 300.18L318.16 301.45L316.88 302.73Z"/><path d="M316.76 270.88L318.03 269.60L319.31 270.88L318.03 272.15Z"/><path d="M317.91 296.05L319.18 294.77L320.46 296.05L319.18 297.32Z"/><path d="M319.05 289.74L320.33 288.46L321.60 289.74L320.33 291.01Z"/><path d="M320.20 286.68L321.47 285.40L322.75 286.68L321.47 287.95Z"/><path d="M321.35 293.47L322.62 292.19L323.90 293.47L322.62 294.74Z"/><path d="M322.50 281.52L323.77 280.25L325.04 281.52L323.77 282.80Z"/><path d="M323.64 293.44L324.92 292.17L326.19 293.44L324.92 294.72Z"/><path d="M324.79 289.90L326.07 288.63L327.34 289.90L326.07 291.18Z"/><path d="M325.94 294.55L327.21 293.28L328.49 294.55L327.21 295.83Z"/><path d="M327.08 281.61L328.36 280.34L329.63 281.61L328.36 282.89Z"/><path d="M328.23 275.53L329.51 274.26L330.78 275.53L329.51 276.81Z"/><path d="M329.38 300.55L330.65 299.27L331.93 300.55L330.65 301.82Z"/><path d="M330.53 285.56L331.80 284.29L333.08 285.56L331.80 286.84Z"/><path d="M331.68 302.97L332.95 301.70L334.23 302.97L332.95 304.25Z"/><path d="M332.82 282.35L334.10 281.08L335.37 282.35L334.10 283.63Z"/><path d="M333.97 279.60L335.24 278.32L336.52 279.60L335.24 280.87Z"/><path d="M335.12 285.69L336.39 284.41L337.67 285.69L336.39 286.96Z"/><path d="M336.27 291.03L337.54 289.75L338.81 291.03L337.54 292.30Z"/><path d="M337.41 284.51L338.69 283.23L339.96 284.51L338.69 285.78Z"/><path d="M338.56 289.88L339.84 288.60L341.11 289.88L339.84 291.15Z"/><path d="M339.71 297.42L340.98 296.14L342.26 297.42L340.98 298.69Z"/><path d="M340.85 261.80L342.13 260.53L343.40 261.80L342.13 263.07Z"/><path d="M342.00 300.75L343.28 299.47L344.55 300.75L343.28 302.02Z"/><path d="M343.15 280.25L344.43 278.97L345.70 280.25L344.43 281.52Z"/><path d="M344.30 293.00L345.57 291.73L346.85 293.00L345.57 294.28Z"/><path d="M345.45 294.29L346.72 293.01L348.00 294.29L346.72 295.56Z"/><path d="M346.59 285.39L347.87 284.12L349.14 285.39L347.87 286.67Z"/><path d="M347.74 289.93L349.01 288.65L350.29 289.93L349.01 291.20Z"/><path d="M348.89 279.69L350.16 278.41L351.44 279.69L350.16 280.96Z"/><path d="M350.04 271.15L351.31 269.88L352.58 271.15L351.31 272.42Z"/><path d="M351.18 288.96L352.46 287.68L353.73 288.96L352.46 290.23Z"/><path d="M352.33 300.61L353.61 299.34L354.88 300.61L353.61 301.89Z"/><path d="M353.48 291.73L354.75 290.46L356.03 291.73L354.75 293.01Z"/><path d="M354.62 264.00L355.90 262.73L357.17 264.00L355.90 265.27Z"/><path d="M355.77 289.83L357.05 288.55L358.32 289.83L357.05 291.10Z"/><path d="M356.92 295.55L358.19 294.27L359.47 295.55L358.19 296.82Z"/><path d="M358.07 295.76L359.34 294.48L360.62 295.76L359.34 297.03Z"/><path d="M359.22 297.65L360.49 296.37L361.77 297.65L360.49 298.92Z"/><path d="M360.36 295.12L361.64 293.85L362.91 295.12L361.64 296.40Z"/><path d="M361.51 296.66L362.78 295.38L364.06 296.66L362.78 297.93Z"/><path d="M362.66 292.93L363.93 291.65L365.21 292.93L363.93 294.20Z"/><path d="M363.81 277.40L365.08 276.12L366.36 277.40L365.08 278.67Z"/><path d="M364.95 297.23L366.23 295.96L367.50 297.23L366.23 298.51Z"/><path d="M366.10 302.09L367.38 300.81L368.65 302.09L367.38 303.36Z"/><path d="M367.25 298.37L368.52 297.09L369.80 298.37L368.52 299.64Z"/><path d="M368.39 296.11L369.67 294.83L370.94 296.11L369.67 297.38Z"/><path d="M369.54 278.57L370.82 277.29L372.09 278.57L370.82 279.84Z"/><path d="M370.69 287.19L371.97 285.92L373.24 287.19L371.97 288.47Z"/><path d="M371.84 304.36L373.11 303.09L374.39 304.36L373.11 305.64Z"/><path d="M372.99 306.00L374.26 304.72L375.54 306.00L374.26 307.27Z"/><path d="M374.13 308.45L375.41 307.18L376.68 308.45L375.41 309.73Z"/><path d="M375.28 302.95L376.55 301.67L377.83 302.95L376.55 304.22Z"/><path d="M376.43 301.15L377.70 299.88L378.98 301.15L377.70 302.43Z"/><path d="M377.58 289.47L378.85 288.20L380.12 289.47L378.85 290.75Z"/><path d="M378.72 291.76L380.00 290.48L381.27 291.76L380.00 293.03Z"/><path d="M379.87 306.14L381.15 304.87L382.42 306.14L381.15 307.42Z"/><path d="M381.02 264.55L382.29 263.27L383.57 264.55L382.29 265.82Z"/><path d="M382.16 306.70L383.44 305.42L384.71 306.70L383.44 307.97Z"/><path d="M383.31 301.37L384.59 300.09L385.86 301.37L384.59 302.64Z"/><path d="M384.46 288.76L385.74 287.48L387.01 288.76L385.74 290.03Z"/><path d="M385.61 294.29L386.88 293.01L388.16 294.29L386.88 295.56Z"/><path d="M386.76 295.56L388.03 294.29L389.31 295.56L388.03 296.84Z"/><path d="M387.90 298.17L389.18 296.89L390.45 298.17L389.18 299.44Z"/><path d="M389.05 299.86L390.32 298.58L391.60 299.86L390.32 301.13Z"/><path d="M390.20 288.40L391.47 287.12L392.75 288.40L391.47 289.67Z"/><path d="M391.35 303.31L392.62 302.03L393.89 303.31L392.62 304.58Z"/><path d="M392.49 304.16L393.77 302.88L395.04 304.16L393.77 305.43Z"/><path d="M393.64 300.63L394.92 299.36L396.19 300.63L394.92 301.91Z"/><path d="M394.79 273.70L396.06 272.43L397.34 273.70L396.06 274.98Z"/><path d="M395.93 308.31L397.21 307.04L398.48 308.31L397.21 309.59Z"/></g>
</g>
<line x1="209.30" y1="196.8" x2="209.30" y2="325.2" stroke="#ff2a2a" stroke-width="0.95" stroke-dasharray="2 1.7"/>
<text x="209.30" y="196.20" font-size="3.6" text-anchor="middle" class="r">Sep/2009</text>
<line x1="262.08" y1="196.8" x2="262.08" y2="325.2" stroke="#ff2a2a" stroke-width="0.95" stroke-dasharray="2 1.7"/>
<text x="262.08" y="196.20" font-size="3.6" text-anchor="middle" class="r">Jul/2013</text>
<line x1="329.78" y1="196.8" x2="329.78" y2="325.2" stroke="#ff2a2a" stroke-width="0.95" stroke-dasharray="2 1.7"/>
<text x="329.78" y="196.20" font-size="3.6" text-anchor="middle" class="r">Jun/2018</text>
<line x1="383.72" y1="196.8" x2="383.72" y2="325.2" stroke="#ff2a2a" stroke-width="0.95" stroke-dasharray="2 1.7"/>
<text x="383.72" y="196.20" font-size="3.6" text-anchor="middle" class="r">May/2022</text>
<text x="350.5" y="230.8" font-size="4.6" fill="#111">Data</text>
<text x="350.5" y="237.4" font-size="4.6" fill="#111">Training</text>
<text x="384.4" y="233.6" font-size="4.6" fill="#111">Data</text>
<text x="384.4" y="239.8" font-size="4.6" fill="#111">Testing</text>
<rect x="240.5" y="342.7" width="82.10000000000002" height="25.30000000000001" fill="#fff" stroke="#a8a8a8" stroke-width="0.5"/>
<text x="255.8" y="349.00" font-size="3.6" class="lg">Variable</text>
<line x1="242.50" y1="352.3" x2="253.40" y2="352.3" stroke="#1466bc" stroke-width="1.2"/>
<circle cx="247.95" cy="352.3" r="1.5" fill="#1466bc"/>
<text x="255.8" y="354.05" font-size="3.6" class="lg">ey</text>
<line x1="242.50" y1="358.2" x2="253.40" y2="358.2" stroke="#c8102e" stroke-width="1.2"/>
<rect x="246.55" y="356.80" width="2.8" height="2.8" fill="#c8102e"/>
<text x="255.8" y="359.95" font-size="3.6" class="lg">ey_hat_TSpVARX_subset_dummyBBM</text>
<path d="M243.70 363.8h1.5M247.95 363.8h4" stroke="#0a8a1e" stroke-width="1.2" fill="none"/>
<path d="M246.05 363.8L247.95 361.90L249.85 363.8L247.95 365.70Z" fill="#0a8a1e"/>
<text x="255.8" y="365.55" font-size="3.6" class="lg">ey_hat_TSpVARX</text>
<text x="275.4" y="382.6" font-size="11" text-anchor="middle" class="cap" fill="#111" font-family='"Liberation Serif", serif'>(<tspan font-weight="bold" font-size="10">c</tspan>)</text>
</svg>
</body></html>
